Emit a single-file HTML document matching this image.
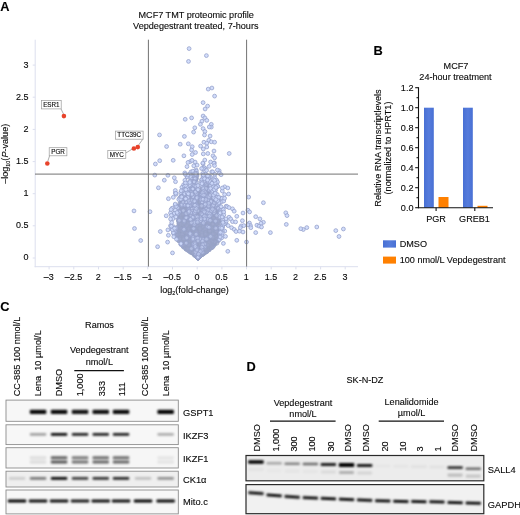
<!DOCTYPE html>
<html><head><meta charset="utf-8"><title>Figure</title>
<style>
html,body{margin:0;padding:0;background:#fff;}
svg{display:block;font-family:"Liberation Sans",sans-serif;}
text{fill:#0a0a0a;stroke:#0a0a0a;stroke-width:.12px}
.t{font-size:9.1px;}
.k{font-size:9px;transform-box:fill-box;transform-origin:50% 50%;transform:scaleY(1.08);}
.g{font-size:6.3px;}
.b{font-weight:bold;font-size:12.8px;fill:#000}
.p circle{fill:#cdd8f8;fill-opacity:.75;stroke:#8f9cc8;stroke-width:.7;}
.r circle{fill:#e8432b;stroke:none}
.gb rect{fill:#fff;stroke:#9a9a9a;stroke-width:.7}
.gb line{stroke:#8a8a8a;stroke-width:.7}
</style></head><body>
<svg width="520" height="515" viewBox="0 0 520 515">
<defs>
<filter id="b1" x="-20%" y="-100%" width="140%" height="300%"><feGaussianBlur stdDeviation="1.0 0.8"/></filter>
<filter id="b2" x="-20%" y="-100%" width="140%" height="300%"><feGaussianBlur stdDeviation="1.2 1.1"/></filter>
<linearGradient id="bl" x1="0" x2="1" y1="0" y2="0"><stop offset="0" stop-color="#4870d4"/><stop offset=".5" stop-color="#567cdc"/><stop offset="1" stop-color="#4870d4"/></linearGradient>
<marker id="pm" markerWidth="6" markerHeight="6" refX="3" refY="3" markerUnits="userSpaceOnUse"><circle cx="3" cy="3" r="1.9" fill="#9ea9cd" fill-opacity=".6" stroke="#98a3c6" stroke-width=".8"/></marker>
<marker id="ps" markerWidth="6" markerHeight="6" refX="3" refY="3" markerUnits="userSpaceOnUse"><circle cx="3" cy="3" r="1.9" fill="#ccd8fa" fill-opacity=".5" stroke="#97a2cc" stroke-width=".8"/></marker>
<marker id="pn" markerWidth="6" markerHeight="6" refX="3" refY="3" markerUnits="userSpaceOnUse"><circle cx="3" cy="3" r="1.9" fill="#ccd8fa" fill-opacity=".88" stroke="#97a2cc" stroke-width=".8"/></marker>
</defs>
<rect width="520" height="515" fill="#fff"/>

<text class="b" x="0.3" y="10.9">A</text>
<text class="t" text-anchor="middle" x="196.2" y="17.5">MCF7 TMT proteomic profile</text>
<text class="t" text-anchor="middle" x="195.8" y="28.8">Vepdegestrant treated, 7-hours</text>
<g stroke="#dcdfee" stroke-width="1" fill="none">
<line x1="35.2" y1="39.7" x2="35.2" y2="267.2"/><line x1="34.6" y1="266.7" x2="358" y2="266.7"/>
<line x1="32.7" x2="35.2" y1="258.0" y2="258.0"/>
<line x1="32.7" x2="35.2" y1="225.8" y2="225.8"/>
<line x1="32.7" x2="35.2" y1="193.7" y2="193.7"/>
<line x1="32.7" x2="35.2" y1="161.6" y2="161.6"/>
<line x1="32.7" x2="35.2" y1="129.4" y2="129.4"/>
<line x1="32.7" x2="35.2" y1="97.2" y2="97.2"/>
<line x1="32.7" x2="35.2" y1="65.1" y2="65.1"/>
<line y1="266.7" y2="269.4" x1="49.1" x2="49.1"/>
<line y1="266.7" y2="269.4" x1="73.8" x2="73.8"/>
<line y1="266.7" y2="269.4" x1="98.5" x2="98.5"/>
<line y1="266.7" y2="269.4" x1="123.2" x2="123.2"/>
<line y1="266.7" y2="269.4" x1="147.8" x2="147.8"/>
<line y1="266.7" y2="269.4" x1="172.5" x2="172.5"/>
<line y1="266.7" y2="269.4" x1="197.2" x2="197.2"/>
<line y1="266.7" y2="269.4" x1="221.9" x2="221.9"/>
<line y1="266.7" y2="269.4" x1="246.5" x2="246.5"/>
<line y1="266.7" y2="269.4" x1="271.2" x2="271.2"/>
<line y1="266.7" y2="269.4" x1="295.9" x2="295.9"/>
<line y1="266.7" y2="269.4" x1="320.6" x2="320.6"/>
<line y1="266.7" y2="269.4" x1="345.2" x2="345.2"/>
</g>
<text class="k" text-anchor="end" x="28.4" y="260.2">0</text>
<text class="k" text-anchor="end" x="28.4" y="228.0">0.5</text>
<text class="k" text-anchor="end" x="28.4" y="195.9">1</text>
<text class="k" text-anchor="end" x="28.4" y="163.8">1.5</text>
<text class="k" text-anchor="end" x="28.4" y="131.6">2</text>
<text class="k" text-anchor="end" x="28.4" y="99.5">2.5</text>
<text class="k" text-anchor="end" x="28.4" y="67.3">3</text>
<text class="k" text-anchor="middle" x="48.8" y="279.3">–3</text>
<text class="k" text-anchor="middle" x="73.5" y="279.3">–2.5</text>
<text class="k" text-anchor="middle" x="98.2" y="279.3">2</text>
<text class="k" text-anchor="middle" x="122.9" y="279.3">–1.5</text>
<text class="k" text-anchor="middle" x="147.5" y="279.3">–1</text>
<text class="k" text-anchor="middle" x="172.2" y="279.3">–0.5</text>
<text class="k" text-anchor="middle" x="196.9" y="279.3">0</text>
<text class="k" text-anchor="middle" x="221.6" y="279.3">0.5</text>
<text class="k" text-anchor="middle" x="246.2" y="279.3">1</text>
<text class="k" text-anchor="middle" x="270.9" y="279.3">1.5</text>
<text class="k" text-anchor="middle" x="295.6" y="279.3">2</text>
<text class="k" text-anchor="middle" x="320.3" y="279.3">2.5</text>
<text class="k" text-anchor="middle" x="344.9" y="279.3">3</text>
<text class="t" text-anchor="middle" x="194.5" y="293.4">log<tspan font-size="5.4" dy="1.8">2</tspan><tspan dy="-1.8">(fold-change)</tspan></text>
<text class="t" text-anchor="middle" transform="translate(8.2,153.8) rotate(-90)">–log<tspan font-size="5.4" dy="1.8">10</tspan><tspan dy="-1.8">(</tspan><tspan font-style="italic">P</tspan>-value)</text>
<polyline fill="none" stroke="none" marker-start="url(#pm)" marker-mid="url(#pm)" marker-end="url(#pm)" points="198.7,242.5 194.1,235.6 187.9,245.6 191.7,238.4 196.8,253.5 197.9,257.8 197.5,245.4 203.9,251.4 205.1,246.2 196.0,251.2 211.2,238.3 203.8,216.8 200.6,253.1 193.2,189.3 200.9,241.9 205.0,250.4 201.6,238.7 198.4,256.4 198.0,256.7 204.9,231.3 191.4,241.1 188.3,210.0 192.8,247.6 196.8,246.6 188.3,232.2 188.8,246.5 198.0,257.5 195.2,251.6 201.3,235.8 206.2,244.1 206.1,227.5 197.9,257.8 203.1,238.2 193.5,252.5 194.4,250.2 197.5,227.3 210.4,209.0 199.5,254.8 194.0,251.4 197.6,252.8 199.6,232.9 197.3,255.2 200.1,249.6 208.3,234.7 198.2,256.5 196.3,255.9 194.6,238.9 206.0,217.0 191.1,199.1 201.5,242.6 195.8,241.3 200.7,237.5 196.9,254.8 213.3,203.5 183.8,238.7 199.8,238.9 198.2,257.4 189.5,234.3 183.4,234.8 183.9,234.7 189.8,245.6 206.3,228.2 206.9,223.6 204.5,243.8 196.2,250.3 210.8,243.3 199.9,241.6 198.7,255.6 204.8,252.6 206.6,213.2 193.1,242.1 197.9,257.5 193.1,229.0 198.9,247.3 207.8,193.5 196.2,239.6 210.9,236.6 199.1,248.5 198.0,257.6 190.6,247.7 181.7,212.8 197.2,254.8 198.0,257.7 207.5,239.2 198.9,256.0 197.5,253.9 197.3,223.2 186.4,200.1 205.6,243.2 193.2,226.2 207.5,234.3 195.0,247.6 190.5,217.8 197.1,250.5 194.7,242.2 177.4,232.9 189.4,232.9 197.4,256.2 198.0,257.9 200.4,227.3 203.2,229.9 199.4,251.8 212.9,243.2 196.3,249.9 197.8,257.6 201.0,240.4 185.3,232.9 198.9,254.3 196.8,253.8 195.2,245.2 198.4,253.3 193.5,245.9 193.1,196.9 190.5,228.7 200.8,244.9 189.2,241.6 194.1,246.1 209.6,233.3 191.2,216.9 214.5,230.7 197.2,231.5 180.0,221.9 198.6,252.5 195.3,244.8 200.0,228.0 205.2,243.2 190.5,209.7 198.3,255.6 190.9,246.0 197.3,250.4 207.8,234.5 189.2,247.5 192.3,179.1 199.5,238.3 194.3,199.5 218.3,221.0 192.4,232.8 190.2,231.5 203.0,245.0 194.2,250.9 193.8,252.3 197.6,255.5 213.2,207.5 213.1,244.1 198.6,251.4 203.7,229.1 190.8,246.0 203.7,237.9 196.7,204.2 196.8,253.0 188.0,238.7 198.2,255.8 199.1,249.0 205.1,244.2 201.6,252.0 197.9,257.7 198.0,250.5 211.1,219.8 208.6,229.8 200.2,245.9 195.5,253.4 200.8,209.8 184.0,228.3 195.6,247.7 214.5,210.4 197.4,256.8 198.0,257.1 197.8,257.4 197.7,256.8 192.4,248.3 197.1,256.7 190.5,224.1 198.3,257.3 202.9,247.1 198.3,253.4 198.1,257.4 192.1,246.0 202.7,233.5 204.9,249.9 180.9,223.0 186.7,242.6 197.6,254.3 195.6,220.0 198.4,256.4 184.0,222.8 202.6,214.3 201.3,236.3 199.8,250.3 183.6,214.4 198.9,255.4 201.1,248.2 202.1,228.0 202.0,236.6 204.4,239.7 190.0,241.1 199.7,252.8 199.1,244.1 194.8,225.3 198.4,254.7 203.6,225.1 192.5,239.5 198.3,256.2 193.7,251.8 203.9,248.5 204.2,242.1 199.7,246.6 196.8,216.5 204.1,237.0 200.8,252.2 197.9,257.3 199.6,252.1 194.3,252.0 212.5,225.4 194.6,249.7 204.5,204.3 189.6,237.6 210.8,232.4 192.7,222.8 198.2,257.6 204.4,237.5 197.9,254.9 198.8,238.3 215.7,222.9 202.1,246.0 199.6,250.8 199.5,245.6 197.4,252.9 201.0,248.1 204.7,244.7 198.6,255.8 190.3,237.9 196.4,247.5 197.9,257.2 195.7,226.9 199.2,253.0 196.1,256.2 195.8,255.2 197.8,257.5 196.5,247.7 199.1,240.4 196.4,252.0 195.5,226.9 189.1,240.1 192.5,249.7 196.8,242.5 214.8,228.1 201.1,250.6 191.4,244.9 196.9,253.7 192.8,251.0 200.3,238.7 197.4,243.2 197.3,255.6 189.7,217.1 217.9,208.4 198.3,251.4 207.1,227.0 215.9,215.2 196.3,210.6 209.3,234.8 198.9,256.2 198.3,255.7 206.2,183.4 185.3,221.3 197.9,238.5 196.4,222.4 198.3,257.1 189.6,231.3 199.3,249.4 207.5,242.8 197.3,255.3 192.3,206.2 188.0,241.0 200.4,244.7 207.2,244.3 198.2,257.3 197.8,196.1 203.9,244.8 208.4,249.8 199.1,250.2 219.4,221.1 189.2,246.2 199.5,252.1 200.0,244.4 197.4,253.2 201.5,227.7 202.2,225.4 200.9,246.9 200.4,251.6 200.6,250.7 199.8,248.1 197.7,190.3 199.6,248.8 197.2,250.8 195.4,209.3 210.5,241.7 177.7,236.4 201.5,247.6 202.6,221.0 197.3,255.3 195.7,217.4 198.6,252.7 199.3,250.4 198.0,257.2 194.5,215.8 204.2,219.3 182.0,208.7 194.1,250.6 195.6,253.8 207.4,219.8 203.8,247.3 211.5,222.3 186.8,247.4 204.5,246.5 198.0,257.3 196.4,224.1 204.4,249.8 197.3,255.9 204.8,232.2 204.4,243.6 191.2,249.1 193.2,217.7 199.7,249.3 184.6,237.9 200.6,251.6 190.8,199.4 213.2,226.0 196.1,246.7 200.9,235.4 198.5,253.8 199.3,253.0 199.7,254.2 189.6,222.2 199.9,220.4 197.2,256.9 191.8,239.8 202.5,244.0 197.8,257.2 195.4,250.7 201.0,250.5 198.2,254.1 198.3,251.1 209.8,211.6 194.7,231.1 204.7,243.8 201.5,213.3 205.8,209.0 196.8,245.5 198.9,250.0 194.4,253.3 204.8,243.2 198.7,256.6 206.0,242.8 197.3,255.5 196.9,244.9 186.2,238.4 199.1,246.5 189.7,219.2 187.5,245.3 204.6,244.8 199.6,254.3 205.6,238.9 186.7,205.9 188.9,210.8 197.7,255.6 208.0,219.6 210.5,228.7 191.5,215.8 192.7,205.9 207.6,234.3 201.7,239.4 204.4,216.0 184.7,228.0 187.8,249.2 193.5,230.1 194.7,249.0 190.9,231.6 199.2,243.8 203.0,250.2 190.8,248.7 197.9,257.7 197.1,215.3 199.5,244.3 197.0,249.4 199.5,244.1 214.4,229.1 203.5,241.3 200.8,248.8 194.7,233.3 193.5,237.3 204.3,205.3 198.7,255.9 187.0,236.6 196.1,239.2 195.9,230.2 197.8,256.8 198.8,250.3 201.1,254.4 199.7,246.9 200.8,212.0 194.8,253.2 200.3,232.1 183.5,208.0 202.4,236.9 203.3,238.5 195.8,201.1 190.1,220.4 191.8,242.8 203.7,216.4 189.8,243.1 193.9,246.8 205.4,234.3 208.5,222.4 197.0,246.3 205.5,230.4 201.9,239.5 191.7,243.0 215.0,215.3 200.9,253.1 199.8,255.6 203.7,231.7 186.6,239.9 196.1,236.7 204.5,209.7 189.5,243.7 198.0,257.0 197.3,234.7 195.6,252.5 197.4,246.5 190.7,186.3 202.9,245.0 196.6,244.4 186.4,245.7 204.3,205.9 198.9,254.9 203.7,245.7 200.4,252.3 200.2,248.5 210.7,233.3 192.1,245.4 210.1,213.1 204.0,230.9 201.4,248.1 191.9,245.4 197.0,247.6 208.7,239.2 184.3,222.5 199.1,253.8 195.1,226.4 203.7,251.8 189.0,215.6 196.4,232.5 192.8,246.9 209.1,238.7 208.4,215.0 192.5,249.5 196.4,214.3 201.7,238.0 193.5,201.3 197.7,221.9 196.3,236.7 202.9,244.3 194.8,220.7 199.7,254.7 200.3,222.1 196.2,248.0 197.4,240.0 198.0,257.1 195.7,244.5 190.4,235.0 192.3,209.6 208.2,239.3 195.8,249.8 201.7,250.2 195.0,216.6 197.5,249.3 204.4,252.6 195.7,214.5 196.2,254.2 207.0,226.3 197.4,250.0 198.1,257.0 182.0,211.3 194.7,197.1 193.9,221.1 192.3,245.8 199.5,256.0 199.4,251.3 203.6,246.1 187.5,218.2 194.3,248.6 203.4,249.8 195.8,251.0 203.2,232.0 206.1,246.5 196.1,252.1 195.3,249.2 209.8,218.5 201.2,250.1 208.0,237.6 197.6,256.1 198.3,254.5 196.8,253.6 199.6,252.8 199.6,253.4 184.1,227.7 198.5,256.7 197.5,255.2 199.6,248.3 208.5,233.5 198.0,257.8 184.4,241.3 205.0,247.3 195.1,250.0 208.3,218.3 199.1,253.8 196.1,246.9 203.4,247.6 191.5,233.1 196.3,227.9 201.7,247.5 196.7,209.3 190.2,228.5 198.9,251.3 197.9,257.7 184.1,218.4 210.3,225.4 204.4,236.3 199.3,256.1 203.0,234.4 199.2,247.2 194.9,254.2 200.5,236.0 197.8,257.6 184.0,237.1 203.6,245.7 204.4,249.3 200.0,250.3 211.2,223.2 192.4,231.5 194.3,248.9 182.9,233.3 198.6,257.0 196.4,245.5 187.3,247.2 186.4,241.6 198.9,249.9 197.3,256.8 194.4,254.1 201.4,253.5 202.8,238.3 196.3,253.5 196.9,254.1 202.3,234.7 188.5,219.8 215.0,228.9 198.9,253.1 197.9,257.9 203.7,240.4 194.3,232.1 195.1,252.9 212.3,232.4 193.2,185.5 193.6,245.6 194.1,242.9 195.2,234.3 193.0,237.5 192.9,237.1 199.8,252.0 197.6,251.6 200.1,253.8 193.1,250.5 197.9,257.6 189.1,234.9 207.4,248.3 195.0,252.2 193.1,239.4 199.9,248.7 198.2,255.5 194.5,242.8 203.4,201.0 201.9,254.6 195.4,244.5 202.5,247.6 187.1,240.8 208.1,209.1 199.9,224.7 196.9,250.8 181.1,216.2 198.7,256.7 208.6,197.6 203.6,240.8 196.1,250.8 209.5,239.6 203.8,219.2 196.3,242.8 200.6,238.4 197.8,256.3 199.6,251.7 196.5,252.8 193.7,244.2 190.7,250.1 200.7,251.3 211.8,217.0 198.7,250.2 192.5,193.6 203.0,240.1 196.2,248.1 196.9,246.1 204.1,252.0 195.2,249.5 196.1,247.2 205.9,232.4 197.8,252.5 189.5,243.3 203.2,219.2 199.6,234.9 197.9,258.0 190.5,245.9 200.3,248.9 190.3,233.5 195.5,250.6 201.0,241.6 210.5,208.2 189.4,243.8 196.1,248.9 201.0,245.5 198.5,252.8 208.8,224.8 193.0,252.2 196.5,254.9 207.1,241.8 186.7,237.5 193.2,239.7 196.0,235.8 205.9,240.8 205.3,233.3 199.0,240.3 203.3,246.7 201.5,242.3 197.3,256.8 198.8,246.4 192.3,234.0 204.8,243.4 196.1,230.0 185.6,237.2 201.6,245.4 200.0,243.7 205.9,249.4 218.9,238.4 203.9,248.5 197.2,255.6 206.4,221.9 194.0,213.4 197.2,256.8 187.3,220.5 196.4,235.8 195.3,254.2 186.4,249.4 194.4,248.6 199.5,256.3 192.0,245.2 194.1,249.0 189.9,248.9 201.1,237.6 200.2,254.5 193.6,253.0 198.7,251.4 196.2,248.6 193.7,238.4 196.2,254.3 184.1,235.0 200.9,231.4 196.8,255.9 213.4,230.6 208.3,240.3 197.9,258.0 188.4,209.9 192.5,251.7 190.3,232.2 187.4,243.3 203.7,241.2 195.6,253.1 198.7,256.1 201.6,252.7 198.4,257.1 192.1,230.2 198.7,251.9 184.0,237.0 196.7,242.1 198.3,252.0 198.6,250.2 197.8,256.1 204.4,233.5 201.5,245.9 197.9,253.8 197.0,251.7 200.0,249.2 203.6,244.6 201.0,245.5 198.2,253.7 195.3,237.7 185.8,243.4 196.8,250.3 196.2,230.7 197.2,221.4 206.3,205.1 194.2,250.8 201.2,212.1 197.0,248.1 198.3,256.5 185.3,215.9 201.8,223.7 203.3,252.2 197.4,240.7 198.5,257.0 205.6,244.9 209.1,229.9 198.7,257.1 205.0,219.4 197.5,232.9 197.2,256.6 196.3,245.0 209.0,249.1 188.3,214.3 207.7,234.5 205.3,223.5 207.8,206.7 198.4,253.5 186.7,242.0 195.0,242.7 210.1,241.7 208.0,224.7 203.6,237.6 195.7,243.5 179.1,219.9 196.2,247.0 193.0,241.2 188.7,240.5 210.5,238.8 197.9,256.7 198.7,252.7 198.8,256.6 204.2,210.3 202.6,242.6 182.0,232.0 202.1,240.4 197.5,244.4 203.8,245.7 200.3,244.9 208.3,233.8 212.9,223.9 197.9,252.0 195.2,249.0 196.8,254.2 193.9,251.4 197.8,256.0 213.5,202.4 196.1,179.7 180.9,233.5 197.3,256.8 217.0,240.0 211.8,207.1 199.6,253.9 197.2,255.8 200.5,241.0 189.7,228.0 198.2,255.1 194.7,246.8 196.7,256.2 198.8,255.2 201.0,250.4 194.9,254.5 202.0,210.2 196.9,243.0 201.4,246.0 197.1,230.6 198.5,255.5 199.1,242.2 206.1,224.3 203.4,248.3 188.1,244.9 197.8,256.8 198.0,257.9 197.7,256.7 200.5,253.4 198.3,256.9 201.5,235.6 197.1,228.7 200.2,254.8 197.9,257.3 195.4,221.1 197.2,256.4 213.1,237.1 197.9,256.9 205.0,246.9 188.0,204.1 208.4,240.3 193.1,249.5 197.8,257.5 199.4,253.7 198.0,257.6 198.7,256.9 199.0,252.2 197.9,257.1 197.2,254.4 202.1,216.6 196.4,240.4 193.0,236.6 197.8,254.0 200.1,249.1 194.8,233.1 205.5,246.6 184.5,214.0 201.6,254.9 197.4,253.8 209.5,245.6 202.0,209.6 190.9,240.6 197.9,257.9 176.7,231.2 196.3,255.7 196.8,254.3 205.1,210.9 184.1,243.0 194.8,220.6 197.0,255.7 202.6,247.8 198.4,257.3 192.9,244.6 196.0,234.7 202.9,251.3 197.3,252.1 195.7,245.3 200.6,235.0 197.8,257.5 200.4,252.5 199.1,246.8 203.8,240.7 199.0,237.9 199.6,253.1 205.9,247.1 197.3,250.7 203.0,246.6 198.0,257.8 199.3,253.7 196.8,223.2 182.8,220.0 198.2,256.7 178.6,236.7 196.8,252.5 199.7,226.1 197.2,229.0 197.5,250.4 197.7,256.8 201.5,238.9 185.2,222.7 199.5,247.9 202.5,210.2 215.3,208.6 191.7,251.2 198.0,257.8 205.4,233.6 195.5,248.9 198.8,255.0 196.7,234.3 186.4,208.5 199.9,254.5 187.4,240.1 213.9,234.8 197.9,257.8 192.5,249.9 195.5,254.9 182.5,205.1 214.1,242.9 199.1,255.7 203.4,248.4 193.4,244.6 194.5,238.3 193.3,196.2 187.0,238.5 197.3,240.6 189.4,234.3 195.3,241.4 184.1,200.8 199.2,244.0 187.8,232.5 205.1,246.2 208.2,205.7 197.7,256.7 209.8,224.1 205.8,234.1 200.0,244.9 197.8,257.5 208.9,235.2 196.6,234.0 199.3,243.2 195.9,251.5 190.2,241.9 181.8,235.8 187.3,227.7 188.2,213.8 201.3,247.2 179.5,210.2 179.2,212.2 190.9,244.6 193.3,244.9 194.9,233.0 199.3,256.2 182.8,214.6 197.6,244.7 197.1,252.3 195.5,236.4 206.7,205.5 200.7,216.0 197.3,255.2 198.2,256.3 193.1,233.0 194.5,249.6 211.0,238.1 196.1,218.7 200.7,251.8 208.0,231.3 193.9,251.6 199.3,254.3 205.0,239.5 184.6,236.9 207.5,220.8 196.9,240.6 200.0,253.2 197.7,248.2 195.8,253.1 210.6,237.4 200.9,247.0 193.5,226.3 199.1,245.3 200.4,253.2 202.6,222.9 198.7,256.0 181.3,226.2 197.0,175.8 198.0,257.7 201.3,248.1 195.3,254.0 195.6,254.9 211.6,214.0 202.1,236.7 205.0,247.4 198.1,256.9 203.3,229.9 202.0,246.6 207.1,247.4 203.4,242.0 209.7,247.0 201.4,240.9 194.7,220.9 193.0,241.9 197.1,245.7 195.9,248.2 197.2,254.9 206.0,232.3 195.2,230.1 199.6,254.5 194.5,245.7 196.9,226.0 205.1,244.9 200.0,248.4 177.5,235.7 192.2,219.2 206.4,238.4 204.6,218.8 192.2,238.9 185.9,212.5 190.9,241.4 216.4,230.2 188.8,244.4 195.1,246.5 203.0,249.9 205.7,234.0 204.1,250.3 198.0,256.4 193.6,209.0 197.8,255.7 207.0,229.9 198.8,254.5 199.3,248.5 198.4,257.1 210.6,242.1 195.7,234.7 195.4,248.2 182.1,232.6 192.1,248.0 201.8,227.7 197.9,257.8 205.6,238.5 192.4,247.3 197.8,255.6 200.4,244.7 200.1,247.9 199.6,244.2 196.9,255.7 198.1,257.2 195.2,251.3 201.3,251.1 197.4,254.8 206.7,220.7 208.4,241.1 196.5,203.2 199.5,230.0 202.3,226.7 197.7,255.0 192.3,212.3 212.4,238.0 197.6,253.5 210.5,193.5 194.5,235.3 197.8,257.3 197.4,250.2 201.5,252.5 203.1,242.7 204.7,247.7 210.3,236.3 197.8,257.3 201.3,249.7 190.7,189.2 189.3,240.1 188.9,224.6 192.2,247.7 204.4,236.3 199.1,253.5 197.3,225.1 217.0,208.0 198.2,257.2 212.7,218.1 203.2,230.1 200.6,229.7 197.8,243.5 185.2,238.3 193.7,196.1 199.6,246.1 204.9,232.9 216.2,228.8 207.5,240.3 196.6,217.9 183.8,231.6 202.3,251.5 206.7,233.8 209.4,249.7 204.8,234.2 197.2,253.0 190.8,221.8 197.9,257.9 198.4,256.0 186.0,227.3 190.4,246.8 194.7,220.5 201.1,250.7 211.5,238.0 190.0,236.2 197.4,251.0 203.0,249.6 190.2,237.6 186.0,239.2 212.7,238.0 200.5,251.5 194.1,221.8 198.7,255.1 194.8,243.8 195.1,231.9 209.3,210.3 194.4,252.8 193.3,236.1 210.8,208.2 212.7,223.1 201.6,253.3 192.7,245.7 198.2,255.0 209.3,236.2 197.5,255.7 193.7,216.5 199.4,253.7 199.4,253.4 209.6,208.6 199.5,250.1 197.9,258.0 188.1,246.7 198.1,256.9 191.3,237.4 196.9,253.5 208.2,238.6 208.9,249.6 200.4,251.5 194.8,253.6 195.6,250.5 197.8,254.9 204.3,249.1 200.1,251.3 193.0,227.0 197.4,253.9 205.4,232.5 197.2,253.1 198.0,257.6 193.2,228.9 210.0,232.2 196.5,248.5 198.4,256.7 199.3,256.0 203.7,245.4 198.0,257.3 202.8,215.8 201.7,219.2 212.2,234.2 195.1,197.6 198.3,257.0 198.2,256.2 207.8,222.7 209.2,245.9 203.4,234.1 197.7,254.1 200.0,245.3 199.1,254.9 194.0,245.5 199.5,246.3 195.0,214.4 200.8,228.6 210.7,243.8 199.3,254.7 201.4,214.3 198.1,257.5 183.9,238.8 202.7,249.6 193.4,228.1 197.0,248.3 216.8,228.4 209.8,217.3 180.4,213.3 207.3,241.9 200.6,253.2 203.7,227.1 197.6,255.7 199.2,243.8 198.3,252.9 200.8,246.2 198.3,254.7 199.1,246.1 202.7,248.8 186.4,230.8 191.3,193.3 200.8,230.6 205.2,248.2 211.0,237.8 198.0,257.5 199.6,254.5 209.9,245.1 210.6,228.0 197.1,248.6 198.2,254.7 177.7,226.7 209.0,233.8 197.6,248.0 207.2,237.2 180.6,240.9 197.2,252.0 186.7,244.7 197.5,256.3 192.9,240.5 188.3,245.2 201.7,222.9 198.3,251.0 184.5,240.3 195.8,251.9 196.8,253.1 202.5,218.1 205.5,242.7 196.9,253.9 195.0,246.0 191.4,242.2 186.2,239.4 196.8,252.8 194.8,251.9 216.9,220.5 201.7,214.9 206.0,187.6 201.2,215.2 196.9,256.4 196.7,248.0 200.1,246.8 201.2,254.0 212.2,231.7 184.9,225.0 191.5,241.8 208.5,228.7 197.6,226.6 201.7,229.1 200.4,251.5 210.5,218.9 206.1,236.2 208.5,245.0 198.0,257.9 217.3,239.4 201.6,247.4 196.8,254.7 204.0,243.1 193.6,220.5 217.1,222.0 191.0,250.7 197.2,214.3 198.8,256.8 197.4,242.4 198.7,255.9 198.0,235.7 197.4,251.8 197.5,250.9 198.5,254.3 197.2,250.4 207.2,235.5 185.4,235.2 203.7,251.8 189.9,244.2 189.2,231.5 187.7,239.4 195.6,182.5 205.5,189.4 195.9,255.1 205.0,224.0 202.3,211.7 185.6,210.6 180.5,206.9 203.0,244.7 198.7,243.3 191.2,249.9 195.3,254.0 209.1,197.9 201.7,227.6 192.0,244.7 201.0,251.7 198.1,257.3 202.8,238.4 202.3,237.4 199.5,235.5 196.2,253.8 197.1,256.0 206.8,206.7 195.0,254.5 195.0,247.0 197.8,257.0 199.0,256.0 193.6,230.1 203.2,245.1 203.8,234.7 209.1,208.8 193.1,244.3 201.0,227.6 193.0,224.4 206.5,250.4 196.3,216.2 205.7,224.3 211.3,245.2 212.4,202.6 201.1,234.8 195.5,227.6 192.5,246.4 199.2,246.9 191.7,245.5 199.6,254.8 200.3,240.3 196.2,253.3 194.2,239.9 200.6,220.4 196.9,245.3 179.7,238.9 198.8,248.5 188.3,234.6 198.3,255.0 196.0,245.9 188.1,238.5 199.5,253.1 200.6,251.8 196.5,221.2 202.1,252.4 203.7,243.5 197.8,250.6 197.0,255.8 206.2,241.8 200.1,249.1 204.4,220.3 197.0,246.7 193.4,247.4 200.3,249.4 195.5,215.3 190.8,217.1 180.8,232.4 192.5,243.2 199.4,254.3 199.7,247.9 197.5,255.4 199.5,248.2 179.6,229.3 201.2,238.4 199.4,253.0 203.4,243.8 197.9,257.2 198.0,257.9 204.1,236.6 187.0,248.1 202.4,249.1 197.7,254.5 204.1,235.6 197.9,257.4 202.4,235.6 196.7,255.4 201.8,224.7 192.1,242.2 204.4,238.7 189.3,243.5 186.0,240.6 195.9,232.6 203.0,248.9 197.8,256.0 192.8,237.8 199.2,253.9 196.7,253.6 197.8,255.0 195.9,249.1 184.2,238.1 205.9,206.9 206.7,243.5 194.4,243.4 192.2,234.4 197.1,249.1 188.7,241.9 198.4,255.3 210.2,208.3 197.9,257.2 202.3,252.3 195.8,244.7 203.8,188.0 194.1,214.5 194.5,247.9 198.5,252.9 196.0,247.5 202.3,250.6 205.0,234.2 204.8,209.4 194.2,254.3 201.0,248.8 202.3,194.6 216.6,229.9 196.3,252.8 193.4,250.6 197.2,247.4 201.7,253.2 201.7,253.7 202.5,245.0 197.9,257.7 195.3,253.5 204.9,236.4 195.3,249.3 194.8,252.6 191.0,234.1 201.4,253.6 203.1,250.6 201.2,218.8 194.6,237.6 198.2,257.1 199.9,214.7 204.0,240.1 197.9,250.4 195.9,250.5 197.6,254.9 210.9,247.2 197.8,256.8 194.6,243.9 198.1,255.5 190.0,241.4 199.0,255.7 199.8,255.3 205.2,185.1 198.2,257.4 186.7,249.1 190.1,232.1 190.4,227.8 193.5,223.4 189.8,241.4 197.5,222.8 195.5,246.0 197.4,248.0 208.9,237.3 197.3,255.4 195.6,231.8 197.1,255.7 192.6,230.6 204.5,211.0 197.2,249.6 198.4,247.0 185.6,202.8 184.6,230.7 196.0,250.1 209.1,237.9 201.0,252.0 208.0,209.0 188.4,235.4 194.7,244.2 192.5,249.7 203.8,248.3 198.5,251.7 201.9,241.3 207.9,241.1 195.7,250.2 189.0,201.5 197.9,258.0 206.6,248.4 195.0,254.4 199.9,251.9 205.1,247.1 196.7,250.8 197.9,257.6 200.6,241.6 193.2,248.8 199.1,245.4 191.8,246.0 187.4,215.3 201.4,243.8 197.0,252.8 192.5,249.1 214.4,241.3 187.1,244.1 193.9,232.4 197.7,255.9 193.3,212.0 192.7,229.1 210.9,236.7 200.5,215.5 202.2,253.1 193.7,242.3 184.3,246.9 203.1,250.0 197.4,250.1 200.5,245.3 198.9,251.5 203.6,238.5 180.8,231.0 200.2,228.4 193.9,247.4 196.6,204.8 193.9,225.5 194.6,230.5 198.2,256.6 211.2,221.9 203.2,239.4 199.7,251.3 194.0,252.2 197.8,257.6 209.6,188.6 205.6,244.8 199.1,254.0 201.4,219.4 191.1,213.8 198.0,255.3 186.9,233.1 201.1,249.3 199.7,253.3 205.9,248.6 194.7,248.6 192.8,249.7 197.4,192.7 198.8,252.4 183.6,232.4 201.0,247.3 197.0,250.0 184.5,241.9 202.7,239.8 206.5,239.2 207.9,243.3 182.1,226.6 197.7,234.4 211.7,237.8 193.7,252.0 196.4,232.4 192.2,239.6 201.4,236.1 198.1,257.5 200.3,234.7 190.5,238.3 197.9,257.8 191.9,236.1 194.6,247.6 197.7,242.5 206.6,249.6 197.8,257.2 202.0,202.8 204.0,225.6 199.0,251.8 193.7,251.0 197.1,253.7 192.6,249.7 194.0,222.6 197.4,212.1 197.9,257.9 197.3,255.3 196.5,236.1 197.4,249.8 189.6,227.9 202.4,230.3 199.3,256.1 197.9,254.5 190.7,249.6 198.3,254.0 199.0,245.0 197.6,247.8 195.4,250.6 205.8,240.4 199.3,254.2 204.7,246.4 198.1,257.2 195.9,247.0 204.3,252.2 192.2,236.9 184.9,232.4 199.9,253.8 197.8,257.2 189.0,248.0 196.3,245.8 204.2,228.4 189.9,244.0 191.8,240.1 197.0,249.7 193.6,249.0 182.4,205.1 190.9,236.6 200.8,253.1 191.4,248.7 199.8,248.0 193.3,253.3 191.7,224.4 199.0,256.1 189.0,248.1 197.9,248.2 201.1,217.8 192.2,245.6 198.3,252.6 187.1,234.3 202.4,213.0 205.3,243.7 192.7,243.5 198.2,254.9 194.9,244.6 195.6,233.1 197.5,257.0 192.4,239.7 207.1,243.0 206.8,219.0 205.4,246.6 200.0,233.0 199.6,254.2 199.8,245.7 197.9,257.0 196.9,256.0 193.7,238.4 190.2,244.0 182.8,238.9 202.6,250.5 197.6,255.6 197.8,257.4 211.3,223.2 197.9,257.2 206.8,237.7 187.8,239.8 198.1,257.7 193.0,191.0 197.5,253.2 183.9,239.5 196.6,251.5 204.7,237.9 200.9,254.5 191.6,245.0 187.6,245.0 200.6,242.9 197.0,241.2 196.8,247.5 206.3,245.5 198.5,252.5 198.3,255.8 195.3,253.7 197.1,242.8 182.3,235.0 208.6,217.1 201.9,243.9 189.5,247.9 194.7,221.0 209.4,206.6 198.4,256.5 196.5,235.9 203.4,213.8 197.9,257.7 194.3,252.7 208.2,204.2 199.2,253.7 189.5,222.0 198.2,256.3 181.4,216.2 192.5,209.7 216.3,222.8 197.4,244.4 194.8,230.7 195.9,250.6 206.5,243.7 200.6,254.8 197.3,200.3 197.3,253.1 204.2,249.6 214.3,230.5 204.7,208.2 209.2,238.8 196.9,256.1 192.6,237.5 212.7,235.6 218.0,241.0 187.5,241.5 198.3,249.9 193.3,243.3 195.1,211.6 190.9,244.1 202.6,191.9 196.7,206.2 195.4,179.4 192.3,242.1 194.3,253.2 197.5,244.1 195.4,250.2 198.4,256.1 188.8,233.2 200.3,246.3 191.9,248.1 198.5,256.6 200.2,255.5 199.2,241.2 197.3,209.1 201.3,222.6 208.1,240.0 198.3,253.5 202.3,239.3 200.2,243.8 206.1,243.7 195.7,233.3 203.2,252.3 196.6,235.0 212.3,232.6 189.3,234.0 189.7,245.6 198.8,242.8 195.3,245.3 204.4,249.3 193.8,217.4 198.9,254.5 197.9,257.3 213.5,229.4 200.6,226.2 198.2,256.5 204.9,230.9 183.9,230.4 192.7,243.5 195.1,191.2 199.4,241.2 197.4,255.7 190.3,240.7 184.3,233.8 208.5,192.0 200.0,244.8 193.5,242.6 200.4,252.2 207.7,231.6 193.3,252.5 198.0,257.8 198.1,256.5 195.2,249.9 199.1,255.2 184.2,233.5 184.0,233.8 200.0,251.6 204.6,249.6 218.9,213.7 195.9,254.0 207.9,234.9 193.1,228.2 200.4,245.4 191.6,218.3 192.1,246.9 191.8,245.4 191.7,250.7 198.9,255.5 207.1,214.9 200.7,228.7 200.9,233.5 194.4,246.0 196.3,200.5 199.9,236.5 198.7,254.0 200.9,249.4 194.0,234.8 194.3,226.2 197.2,245.3 194.4,250.6 205.0,241.2 203.1,243.9 217.4,238.5 200.3,253.8 202.2,250.2 213.6,208.5 197.6,256.5 193.6,225.0 197.3,243.3 207.7,246.0 188.7,244.1 193.4,241.1 196.3,254.2 197.9,257.6 195.8,253.3 204.3,233.0 195.2,249.5 195.5,246.7 205.9,248.1 200.9,248.7 201.4,252.3 197.0,238.4 206.1,243.0 195.1,226.8 216.8,236.8 197.2,240.9 197.3,252.6 200.1,218.0 201.8,218.9 205.1,219.5 210.4,234.7 215.6,228.6 197.6,255.5 193.3,252.5 180.6,220.9 192.2,248.4 193.9,241.7 213.1,225.7 199.1,256.2 195.3,233.6 180.8,202.6 197.3,256.5 194.5,235.4 195.3,240.8 182.1,200.5 178.1,232.9 196.9,253.8 187.0,234.9 204.3,245.9 214.2,233.9 196.0,255.4 197.8,255.6 198.7,252.0 197.8,256.4 212.6,225.8 201.6,245.0 194.6,225.8 200.1,236.1 188.6,209.2 192.0,235.9 202.9,234.2 202.7,214.8 197.1,243.6 195.8,229.8 197.9,256.5 190.3,215.5 197.8,256.4 180.2,237.3 198.4,256.4 190.7,247.3 199.2,231.2 197.5,257.0 184.1,233.9 205.1,225.0 201.8,231.4 202.1,206.4 198.7,250.5 199.9,249.3 181.2,223.2 193.6,252.0 197.7,256.9 204.4,241.8 200.7,254.0 202.0,242.7 211.9,235.0 203.1,249.2 182.0,227.8 197.4,243.9 194.1,250.3 200.6,251.9 198.4,255.0 200.4,253.1 196.5,230.1 213.5,239.3 192.8,238.1 197.8,256.0 208.1,243.7 203.2,241.9 193.0,252.9 197.9,242.5 190.8,243.7 204.1,229.5 197.4,256.4 194.8,251.1 199.4,243.2 197.9,251.8 196.3,251.3 209.7,233.3 200.9,238.2 194.1,253.1 197.8,256.5 198.0,257.5 205.5,245.7 201.2,250.9 195.4,251.5 197.6,251.0 203.8,240.3 198.0,256.9 189.2,216.1 203.1,236.5 216.3,229.3 212.9,235.1 189.9,239.4 196.7,250.7 207.1,211.3 198.0,257.8 203.5,237.8 198.0,257.8 197.8,254.2 195.1,209.0 199.3,246.6 193.0,210.8 177.6,237.4 208.3,226.1 198.5,256.9 201.6,212.9 199.0,251.9 193.5,248.9 186.7,233.6 202.9,247.5 199.5,242.1 212.2,233.7 209.7,219.9 197.1,249.3 203.7,234.2 194.6,252.1 195.0,238.0 198.3,251.3 198.4,251.4 200.1,251.5 197.0,256.5 191.1,248.0 201.9,249.1 199.4,251.7 188.0,238.8 196.3,248.0 186.8,241.9 198.0,257.8 211.2,230.1 198.5,250.0 200.8,250.9 194.6,216.5 194.2,253.3 199.5,250.8 198.0,257.3 203.0,245.0 197.9,257.7 186.8,227.6 196.5,223.6 197.9,257.8 195.0,222.7 197.4,252.1 209.0,236.4 185.9,239.3 203.0,232.8 206.0,238.1 197.7,257.0 197.3,256.2 199.6,250.2 193.2,229.5 201.7,242.2 199.0,245.2 187.6,206.9 192.1,221.2 197.3,249.8 204.4,253.2 199.4,250.7 201.9,238.3 194.5,252.8 198.0,257.8 197.7,255.5 198.9,252.4 190.3,230.8 210.0,240.0 203.2,251.2 191.5,240.9 209.2,230.9 201.6,248.3 197.5,242.8 193.8,239.3 179.4,229.0 183.6,232.9 196.6,250.4 189.2,228.3 198.6,256.7 199.3,241.5 196.4,252.2 215.3,229.0 196.5,248.9 198.7,250.4 202.3,240.3 196.2,240.2 205.9,245.5 190.8,235.0 179.8,203.4 216.3,239.3 194.9,229.0 211.3,239.2 194.6,237.7 198.4,250.8 197.9,256.7 200.1,245.2 194.7,235.2 216.8,226.9 200.3,255.2 215.1,217.9 205.1,236.8 197.2,242.1 196.6,243.8 200.2,253.6 197.7,256.8 206.2,230.6 183.5,219.0 203.9,236.6 198.1,257.2 193.5,186.4 206.2,241.0 194.9,214.9 197.7,257.1 201.2,252.2 181.0,221.8 216.2,233.0 182.9,215.6 195.7,249.5 208.7,230.7 201.2,233.8 198.6,251.0 200.5,236.3 197.6,254.8 197.3,249.6 195.7,246.0 197.1,253.5 204.9,237.1 197.5,255.5 195.8,252.4 194.7,234.2 197.9,257.6 188.7,243.4 204.8,246.3 198.1,257.3 199.5,252.5 197.7,254.4 197.2,235.8 197.1,252.1 192.9,213.8 199.6,251.7 198.7,256.7 204.4,210.4 197.0,253.2 199.1,255.4 206.7,220.0 196.8,248.8 191.6,241.7 196.8,246.3 207.7,244.8 191.9,245.3 196.3,252.5 199.1,255.8 197.9,257.8 210.5,227.4 197.3,213.8 185.6,219.6 194.5,249.2 206.3,244.1 209.5,233.8 211.2,234.6 194.0,245.5 197.0,249.8 194.1,200.5 200.7,247.9 197.2,250.6 210.1,240.3 202.4,206.3 197.0,246.6 198.3,252.4 213.6,231.6 199.2,256.0 187.8,245.0 198.1,255.7 196.2,248.7 199.3,252.6 197.6,255.2 188.6,240.8 192.1,246.5 200.7,206.4 197.7,255.0 194.9,243.2 192.3,219.3 193.5,250.7 205.6,228.9 201.0,234.3 196.3,223.6 201.2,227.9 196.6,237.1 197.7,256.2 198.4,253.9 193.5,235.7 186.8,236.8 206.2,232.3 198.0,257.9 195.8,247.3 200.8,250.3 197.3,250.3 200.8,240.0 191.7,249.8 192.2,238.6 200.2,255.2 195.2,252.5 201.3,204.1 201.5,254.9 213.4,234.6 205.2,234.7 195.4,233.4 190.5,222.3 197.4,252.4 196.5,232.9 198.8,254.5 197.2,252.8 185.3,232.7 190.2,234.8 200.1,254.5 198.2,257.4 200.3,238.0 202.5,236.0 200.8,252.3 204.1,245.0 197.4,256.3 202.9,252.4 187.2,212.6 197.6,212.0 203.7,242.5 195.5,234.7 209.6,243.5 198.9,241.9 196.0,251.7 202.6,243.1 197.9,257.1 198.0,257.6 188.1,232.4 199.0,240.3 196.7,238.2 195.5,252.5 204.8,244.0 204.6,239.0 200.6,252.8 206.5,221.0 196.4,198.8 198.7,246.2 210.6,241.2 197.3,240.8 196.6,249.0 192.6,244.0 198.6,252.8 202.8,229.3 198.1,257.5 197.9,257.9 196.7,234.7 192.9,249.3 200.4,209.8 203.3,230.4 197.1,225.1 205.2,207.7 198.9,251.4 191.2,226.9 215.5,207.6 198.1,257.2 197.9,256.1 197.7,254.7 192.1,247.0 202.6,249.1 209.9,226.1 197.4,254.6 200.4,251.3 209.6,240.8 192.7,250.1 192.0,246.2 199.0,250.1 190.7,251.9 198.9,250.5 211.8,235.8 202.9,212.0 200.7,215.6 197.2,254.3 193.5,251.1 180.9,237.6 188.4,229.7 200.9,244.2 196.4,254.7 197.9,257.7 198.3,256.0 195.1,239.1 201.1,235.1 200.0,246.7 202.0,252.5 195.2,248.0 196.0,242.9 190.7,222.9 201.0,230.7 203.3,245.6 204.3,249.3 196.1,249.5 194.3,250.9 199.1,256.5 193.1,244.9 188.8,243.5 195.8,245.6 203.4,234.7 204.5,247.1 188.7,236.4 198.9,253.2 209.5,240.7 201.5,240.2 180.7,227.3 213.4,210.2 196.1,249.3 200.6,238.7 200.3,249.7 196.1,239.9 206.5,231.2 198.4,254.7 207.6,241.8 193.2,231.6 195.3,251.8 203.8,221.8 201.0,249.3 197.0,252.9 190.5,244.5 201.2,236.3 198.1,256.3 202.4,253.2 197.4,256.8 214.8,231.4 200.0,252.0 190.7,232.6 202.0,245.2 205.8,248.8 199.6,253.9 209.0,217.2 200.6,253.1 193.8,250.6 217.4,218.8 209.4,233.2 194.3,251.7 194.1,247.0 196.1,211.9 196.6,254.1 196.3,249.0 206.7,221.6 214.1,233.1 208.3,214.5 197.9,250.9 202.6,225.7 191.2,213.2 189.2,232.1 188.9,233.7 194.0,248.6 193.8,226.1 207.0,239.3 198.1,234.1 200.7,254.5 199.2,237.6 185.7,246.9 199.9,253.2 199.7,248.3 199.6,252.8 201.3,235.3 188.8,236.0 203.9,248.8 199.2,256.0 204.5,239.0 201.3,238.3 198.8,255.2 194.5,240.4 209.8,243.0 193.0,245.4 211.9,204.2 198.2,256.2 198.1,257.0 194.7,243.9 179.5,217.8 196.6,238.2 204.2,221.2 196.5,242.4 187.3,243.7 198.7,255.3 198.8,255.5 205.1,225.3 204.8,248.6 198.8,256.1 197.7,255.7 197.8,256.4 207.4,244.2 201.0,246.0 204.2,245.3 200.6,246.1 197.9,256.2 188.9,244.3 192.0,228.5 215.5,236.1 191.5,250.2 197.9,257.8 199.9,246.5 206.5,195.0 183.4,227.1 201.6,236.8 218.1,222.8 202.2,220.0 200.4,252.6 208.8,235.8 193.1,191.2 195.6,247.4 198.7,247.4 195.1,250.2 192.8,212.2 189.5,247.8 211.7,230.0 206.5,200.8 194.6,188.5 197.7,256.5 200.5,244.9 207.4,196.2 201.1,244.3 203.1,254.0 193.4,227.1 198.8,256.5 211.0,224.7 199.5,254.2 190.0,237.5 194.1,252.9 194.1,242.4 211.1,239.7 196.4,253.8 197.6,251.3 197.9,258.0 197.9,253.7 211.9,237.8 198.6,253.0 197.9,257.8 189.2,242.9 195.9,246.9 186.9,243.1 202.5,212.4 191.5,241.0 202.0,248.6 196.1,251.1 197.9,255.7 191.2,228.1 194.6,247.7 198.6,251.8 196.5,253.6 197.3,221.9 197.2,251.9 185.2,231.7 207.0,245.9 200.6,243.0 199.2,243.3 197.2,255.4 201.4,236.5 198.5,250.4 195.4,249.0 189.2,241.2 193.3,239.0 184.4,230.5 183.2,246.6 199.3,245.4 192.8,225.2 206.4,236.3 203.6,241.2 196.6,247.9 195.5,248.8 194.5,195.8 205.3,208.0 196.1,252.5 200.3,248.2 201.5,253.8 188.1,225.4 199.3,244.1 192.6,246.2 197.2,254.5 197.1,255.2 199.0,243.9 204.5,247.4 195.4,254.0 218.2,222.6 194.2,218.0 193.4,211.1 214.8,240.6 193.7,210.6 198.8,256.4 210.8,219.7 199.2,242.8 198.8,247.2 196.2,255.1 198.4,256.4 202.5,227.9 193.6,222.7 193.1,244.9 190.0,242.1 201.9,240.5 183.8,213.3 205.8,237.6 198.9,255.9 196.0,252.1 189.9,204.3 202.9,237.4 194.8,246.2 197.5,256.9 198.0,257.5 198.0,257.0 206.1,241.1 194.8,209.8 202.7,233.4 199.2,253.2 208.3,234.9 198.0,257.6 183.2,216.6 207.3,196.0 198.9,255.5 200.5,252.1 197.9,258.0 198.0,256.5 196.7,248.0 199.2,245.3 203.4,253.5 204.3,224.1 188.9,233.0 197.6,256.7 200.4,249.6 211.3,243.3 198.0,257.3 197.8,248.4 196.0,205.4 191.9,245.7 187.8,232.6 201.4,221.7 205.9,236.5 203.5,217.8 193.3,250.7 197.6,256.5 197.3,256.9 209.0,233.7 199.7,255.3 197.9,254.6 195.3,248.0 208.5,238.1 190.6,233.9 197.4,256.6 199.2,250.0 199.2,254.6 198.4,257.0 198.7,252.2 198.4,256.9 185.9,241.5 202.5,242.7 194.8,241.9 198.8,252.5 202.5,220.3 189.1,246.8 201.3,228.0 207.4,244.1 196.9,247.6 198.5,251.6 205.0,245.3 197.9,257.8 197.5,255.0 198.8,253.5 199.2,252.2 210.2,236.8 188.3,222.4 197.6,253.7 196.6,252.9 196.6,242.7 199.6,251.3 198.8,255.4 202.5,204.1 187.5,232.9 201.5,232.9 206.9,246.8 199.4,253.5 210.5,242.6 200.6,251.7 198.3,257.2 196.5,246.4 194.1,246.7 199.3,244.2 214.9,220.9 199.7,250.3 212.7,230.7 197.0,238.3 201.0,248.6 196.8,251.1 182.9,228.9 204.8,180.4 193.2,215.6 215.0,213.7 198.7,246.4 196.9,245.8 200.2,251.7 182.6,241.1 195.9,255.0 213.5,229.7 189.4,248.1 196.2,254.9 201.3,250.6 195.7,237.7 186.7,219.0 197.5,240.9 197.9,219.2 210.0,188.4 194.2,253.1 203.3,215.9 198.5,250.5 195.9,240.6 199.8,252.5 189.2,246.9 187.9,244.3 200.7,250.4 188.2,225.5 198.1,256.3 197.3,256.8 197.9,257.7 181.4,232.9 198.4,252.8 192.5,202.5 183.8,237.6 208.9,231.4 197.4,255.1 195.9,239.3 197.8,257.7 205.8,214.7 205.4,237.0 200.9,244.9 199.7,254.8 196.0,239.6 196.8,241.2 215.3,242.8 201.6,250.0 191.1,234.3 190.3,237.8 194.6,240.5 195.3,184.0 204.1,228.6 203.9,227.2 193.9,236.7 192.3,196.4 209.7,236.4 206.3,221.4 197.8,256.7 205.4,251.9 197.6,254.5 193.9,224.5 189.8,233.2 197.6,255.0 203.5,224.3 188.3,232.0 194.0,250.5 213.3,210.7 200.4,253.2 198.8,254.4 199.3,254.8 179.9,237.6 206.9,190.6 198.0,257.8 197.3,257.2 192.3,248.5 191.1,235.7 206.3,245.7 209.4,219.8 178.7,209.5 192.2,216.8 196.5,237.6 197.9,257.8 198.7,254.9 201.2,225.9 203.0,251.4 190.0,248.6 200.2,253.7 202.0,228.2 194.6,251.5 192.4,240.4 197.9,250.8 200.7,254.3 203.2,209.2 205.3,243.4 199.9,247.8 199.8,245.5 192.7,240.2 198.8,252.2 196.7,254.9 201.5,234.8 203.9,226.8 188.8,238.3 198.9,243.1 198.9,256.1 198.4,256.8 201.5,239.0 198.5,255.7 202.8,242.4 196.9,252.9 212.6,228.8 198.5,250.5 186.4,231.1 197.7,255.6 206.8,242.6 203.9,246.3 196.1,227.5 209.0,229.2 204.0,235.1 200.9,251.9 185.0,194.9 189.3,226.4 201.3,250.3 206.0,233.1 184.1,210.5 200.1,249.4 201.0,237.6 198.4,255.1 198.4,256.0 196.3,243.9 197.2,255.8 197.4,253.2 197.6,249.0 204.5,224.6 212.9,227.8 187.7,248.4 206.3,240.4 196.5,252.6 197.9,256.8 201.3,242.5 199.0,254.3 197.6,249.1 209.7,238.2 181.6,215.6 192.0,245.1 203.5,235.8 185.6,236.2 197.9,255.8 197.5,257.2 195.2,247.4 200.2,243.1 198.3,253.0 196.1,253.6 202.3,245.1 192.0,246.4 199.1,256.3 192.8,229.2 202.2,223.2 193.1,251.5 190.8,243.4 197.4,256.5 191.5,249.8 202.8,210.1 198.6,250.7 183.6,202.5 197.1,255.7 198.0,257.4 192.1,246.6 194.1,226.9 196.7,254.3 196.1,191.3 193.8,201.2 197.6,217.4 188.6,211.0 196.7,247.8 197.5,255.5 186.8,237.9 198.6,254.7 200.1,252.9 192.7,243.7 202.5,235.0 209.0,219.3 190.4,245.6 193.9,233.1 207.0,186.8 188.0,231.1 204.2,227.6 190.9,240.7 196.2,236.4 196.8,226.1 202.3,237.9 199.4,252.9 199.0,254.6 201.4,240.2 202.7,189.3 199.7,237.5 198.4,256.3 199.9,220.7 197.4,257.1 208.3,234.6 215.0,235.0 198.0,257.8 197.7,257.3 205.5,246.1 203.3,251.3 204.0,243.8 195.6,238.8 197.1,256.8 198.3,253.7 201.6,242.8 196.5,252.9 197.0,233.2 196.9,253.1 188.2,236.2 196.7,247.8 200.4,230.0 213.9,221.0 195.8,254.5 205.5,230.3 194.5,250.5 202.8,193.0 196.9,256.7 207.8,244.6 198.0,257.6 195.0,242.4 194.1,250.3 196.9,245.3 197.5,254.9 209.3,187.2 199.4,254.8 196.7,235.4 201.9,253.0 190.8,249.4 204.1,226.1 198.1,257.5 209.9,234.6 194.5,250.2 206.7,249.9 201.7,228.5 196.9,256.2 199.9,255.3 205.6,241.4 191.7,203.0 200.9,254.4 196.0,246.7 197.8,257.6 203.5,245.1 203.4,248.9 189.1,223.9 195.3,219.4 209.9,239.4 196.2,250.4 208.9,245.7 201.9,242.6 195.1,222.0 192.3,199.8 204.8,223.5 197.4,254.7 189.1,247.4 197.9,257.0 185.2,208.1 198.1,257.3 196.2,246.8 196.5,235.4 196.6,254.3 195.1,246.6 199.9,245.7 197.4,254.8 195.3,222.1 191.5,230.0 199.6,242.8 197.3,205.7 194.9,246.7 182.4,233.3 195.4,251.4 200.7,250.4 199.0,245.2 200.6,248.4 198.7,255.1 194.7,233.3 196.7,252.9 202.1,240.8 196.4,256.1 207.6,229.5 187.8,233.0 217.4,210.1 188.4,240.8 198.1,256.4 209.3,240.1 209.3,243.9 207.4,245.6 199.6,241.5 194.5,202.1 209.8,238.4 189.0,247.4 204.8,243.4 193.5,244.8 198.0,257.5 193.3,243.9 201.7,192.3 197.1,244.9 192.3,244.4 192.9,236.6 194.6,240.3 198.6,253.7 207.8,196.1 204.3,234.1 198.2,253.9 182.7,224.8 198.9,254.4 199.0,255.3 215.0,212.7 195.0,250.1 196.5,254.5 202.5,250.6 208.7,210.7 189.7,223.1 212.0,232.4 204.0,241.2 196.5,251.6 188.9,233.4 204.1,212.8 201.9,251.5 207.6,232.6 203.0,222.8 199.2,236.6 199.7,242.5 206.2,231.8 198.0,256.2 197.9,257.2 192.6,250.6 196.0,244.7 197.9,257.8 193.7,252.7 195.1,253.3 182.1,236.7 186.0,244.6 208.0,226.3 211.7,238.0 195.9,185.0 197.6,254.0 207.4,227.6 198.8,256.3 197.9,257.8 194.7,223.1 196.9,256.1 196.5,248.1 197.2,251.8 197.6,253.9 197.4,252.1 210.6,215.6 201.2,245.2 200.9,250.6 199.8,246.5 192.7,250.7 198.8,253.2 196.1,231.3 194.1,244.4 189.5,220.9 197.7,256.5 199.5,243.0 197.0,252.5 197.9,257.8 197.0,254.6 203.9,228.0 197.8,256.5 197.3,256.6 195.7,234.8 198.0,257.7 198.6,256.6 209.7,236.4 195.9,241.5 194.3,253.8 212.9,244.5 210.0,240.9 197.3,254.8 192.0,241.2 191.4,224.1 199.2,252.8 187.6,219.6 197.1,245.7 196.4,230.3 202.5,238.5 198.4,251.7 203.0,248.3 214.1,231.1 204.0,250.0 191.3,221.4 202.6,221.8 205.6,243.4 190.8,245.3 201.9,236.2 197.2,221.6 198.4,255.5 197.8,256.2 210.5,242.0 201.3,250.6 196.5,243.1 202.3,248.9 196.4,254.9 199.0,251.6 198.9,254.4 203.6,219.2 198.4,256.4 199.8,248.4 195.2,249.2 209.7,247.1 197.4,255.1 193.9,224.6 195.6,244.4 194.7,250.1 196.7,234.7 204.2,221.1 207.6,200.9 195.8,253.9 196.2,251.5 183.7,247.2 212.8,221.3 196.2,240.6 190.2,220.2 197.0,186.8 212.4,205.4 201.3,228.8 197.5,253.4 202.3,250.3 190.5,237.9 179.7,216.2 201.2,237.3 194.0,236.4 191.7,241.8 199.1,242.1 199.3,255.4 189.7,238.5 197.7,257.6 195.2,235.5 196.6,254.1 209.7,231.4 185.1,241.7 199.6,250.9 201.5,235.1 197.8,255.3 208.7,242.5 189.9,205.5 181.9,212.6 198.9,248.9 187.6,243.1 193.7,240.7 197.8,257.6 200.5,248.1 195.3,226.8 200.2,246.8 197.5,256.7 188.1,224.7 188.3,231.2 187.1,245.0 196.6,238.3 185.4,242.7 189.9,221.7 216.5,230.8 197.9,258.0 207.6,236.1 198.6,253.7 202.0,246.5 191.1,239.7 186.9,225.6 204.4,216.6 200.1,247.6 186.3,218.6 210.1,202.7 203.2,248.4 203.0,228.8 198.6,255.1 198.0,257.9 196.1,213.7 192.4,240.4 201.1,246.8 199.4,248.0 198.4,256.9 184.5,221.0 196.4,253.0 205.5,248.6 200.6,239.9 198.4,256.6 203.2,226.0 204.2,250.7 196.9,244.9 191.6,237.4 197.6,257.1 194.9,250.1 196.7,255.7 197.8,257.6 195.6,245.6 198.6,250.7 200.5,232.1 190.6,246.4 197.6,255.2 190.0,194.6 197.8,254.2 207.0,238.1 200.6,249.5 198.4,254.7 193.1,244.9 199.8,246.3 197.9,257.9 191.9,206.5 196.7,216.5 193.0,250.0 193.2,245.2 196.0,218.8 191.1,201.8 196.4,243.1 196.1,228.5 206.1,229.2 191.2,203.8 193.1,247.6 196.5,232.9 204.7,227.5 196.8,251.3 192.6,242.6 187.2,243.1 214.8,234.6 193.4,252.5 195.8,249.5 197.8,256.6 181.5,209.2 195.9,254.9 202.4,247.1 188.0,247.6 201.2,250.5 192.6,246.9 201.4,248.3 198.2,254.3 196.7,250.0 187.6,242.9 196.3,247.0 205.9,218.8 197.3,255.8 201.9,196.8 203.7,241.0 211.6,219.3 192.5,239.1 192.9,247.1 187.3,213.7 189.4,214.7 212.1,242.0 195.1,253.1 193.7,252.0 194.3,227.8 201.2,228.8 195.3,254.7 191.6,236.8 196.7,230.7 199.8,254.7 213.8,200.6 200.8,208.2 195.7,252.6 208.2,245.0 194.4,249.4 197.6,256.8 195.2,246.7 197.7,254.4 201.7,231.9 197.7,246.5 190.5,228.6 194.5,249.2 191.2,242.8 193.1,246.2 209.2,245.8 191.9,232.6 199.3,253.9 197.6,256.7 207.9,216.7 195.7,193.1 205.5,234.5 190.9,209.9 194.1,196.9 187.4,241.6 196.3,254.6 209.7,245.0 200.5,252.7 184.5,214.4 212.2,243.7 210.6,245.7 199.5,226.9 190.3,215.6 201.9,204.2 180.5,208.0 195.7,241.3 193.4,237.0 195.7,255.9 194.5,254.6 196.5,247.0 191.4,244.6 204.0,230.5 190.7,246.9 209.2,206.9 198.1,255.8 197.9,258.0 203.1,225.9 200.6,232.0 205.4,251.9 197.1,256.5 182.6,227.8 197.2,254.5 197.9,257.9 199.0,239.5 194.0,249.6 183.7,235.6 199.1,255.1 200.4,254.7 200.5,245.3 196.8,256.4 199.7,249.3 186.6,239.4 200.1,223.2 198.0,257.7 201.7,251.1 186.5,219.4 206.6,224.7 196.7,248.4 192.8,242.2 200.2,254.7 187.2,223.4 200.8,241.5 194.3,254.9 178.7,240.4 197.6,255.9 191.7,230.3 202.4,239.0 196.6,235.5 195.5,252.2 184.2,205.0 216.8,221.4 205.4,249.0 199.6,243.4 198.0,257.7 213.7,245.8 207.4,187.5 200.0,254.7 206.4,211.9 197.7,257.1 197.6,256.6 205.9,246.0 197.9,244.5 196.6,244.3 197.2,252.5 204.3,207.6 204.7,245.0 199.1,255.9 187.0,240.8 196.9,247.8 203.0,243.6 194.9,251.5 198.0,257.9 197.6,253.9 196.5,247.3 198.8,255.3 185.1,209.5 189.9,247.2 198.5,255.7 184.9,228.6 200.0,254.2 197.4,252.6 199.4,230.0 203.4,209.8 190.1,233.2 195.9,250.5 198.4,255.9 197.3,254.7 195.5,243.3 195.3,249.8 186.8,237.2 197.5,253.3 201.4,253.7 197.7,240.9 197.2,255.1 204.7,244.2 199.2,247.0 203.0,239.7 205.2,246.5 198.2,255.0 193.6,234.9 195.8,249.5 192.1,248.5 200.1,232.9 204.5,226.9 204.7,248.0 200.7,226.7 198.7,250.9 181.4,219.6 198.3,257.0 215.8,225.1 192.5,249.5 198.1,255.7 194.1,253.3 196.6,251.2 198.2,252.8 210.4,233.4 197.3,242.7 195.3,223.3 201.9,253.4 190.8,248.9 186.2,249.1 190.9,239.6 218.2,239.3 203.5,250.1 193.4,232.7 198.2,252.7 200.5,237.9 197.8,257.5 193.7,216.9 191.4,240.2 197.7,243.7 197.9,257.6 197.0,254.5 186.6,241.6 197.9,257.3 202.8,251.3 195.6,240.0 210.3,222.4 186.8,244.2 203.4,243.0 195.1,250.5 195.4,253.9 190.7,246.2 207.5,245.4 179.0,224.0 198.2,256.9 197.7,255.4 197.0,241.1 195.4,244.8 195.0,251.1 200.1,242.1 190.6,247.6 204.0,225.4 195.3,250.8 206.5,223.4 197.1,212.6 200.6,254.6 197.2,254.1 189.5,242.2 204.5,230.4 202.5,249.9 198.6,254.0 182.7,237.7 203.9,223.3 202.7,244.3 206.7,231.8 196.5,178.3 197.5,242.7 186.7,242.3 194.7,243.4 215.4,221.3 210.9,234.1 194.7,254.9 199.8,252.8 205.0,218.0 198.9,253.1 197.3,251.0 200.9,243.5 201.8,246.4 203.1,248.8 206.3,243.0 190.8,252.3 213.2,203.2 198.1,256.0 195.9,243.4 200.4,247.4 193.2,234.0 200.8,194.1 189.7,245.6 205.3,234.9 199.7,249.9 197.3,256.3 191.1,191.4 194.4,229.0 195.8,254.2 198.3,254.5 189.6,248.3 201.2,249.2 199.2,247.3 199.7,252.4 181.9,205.4 198.8,255.9 196.5,254.2 216.3,210.9 189.0,243.3 191.2,212.0 193.4,249.6 194.1,246.5 205.4,245.4 197.8,254.3 205.8,241.9 183.5,229.3 216.6,202.8 195.4,245.0 204.6,240.5 193.7,248.6 207.9,215.8 177.6,237.7 194.0,250.8 199.2,252.3 195.8,232.6 206.2,231.1 189.1,225.9 193.5,243.3 201.8,253.5 206.7,241.1 194.4,248.3 199.6,252.0 212.7,234.4 200.6,223.7 197.6,257.1 201.3,208.0 200.2,255.1 200.2,253.6 195.5,247.7 189.2,223.0 194.8,255.3 209.4,239.3 195.4,245.0 201.9,239.1 202.2,252.8 198.0,257.6 197.3,249.7 190.3,251.0 200.9,232.6 194.9,250.6 193.3,242.2 208.0,233.5 194.6,248.3 196.6,225.2 193.6,249.9 195.4,253.4 192.5,249.0 196.0,243.7 195.3,236.1 214.7,235.8 192.2,237.6 190.3,227.7 190.8,250.8 200.4,250.4 202.7,247.2 211.9,207.0 190.2,252.1 183.4,217.7 207.2,235.0 216.6,229.2 198.5,254.2 197.0,252.7 196.6,255.2 197.6,253.6 195.7,228.7 196.7,253.7 195.1,246.0 188.2,230.5 204.2,246.9 196.8,246.1 204.0,238.2 192.9,249.0 197.7,256.8 197.9,257.4 201.5,251.9 185.9,244.2 203.8,237.0 199.6,238.6 208.5,240.9 190.9,249.2 195.9,247.4 198.0,257.4 197.9,256.0 209.5,240.8 198.4,256.5 201.1,218.9 193.3,244.6 205.6,249.6 193.5,247.2 198.8,255.0 204.2,183.5 198.0,257.8 197.7,257.2 196.7,256.2 197.2,253.3 198.4,249.5 215.8,224.0 195.3,253.6 208.0,243.0 199.0,252.7 179.9,222.7 209.7,239.2 197.8,253.8 212.1,223.4 192.4,239.0 207.0,238.7 195.7,249.4 193.0,226.7 207.6,237.5 201.5,241.8 199.8,253.8 203.1,244.4 198.8,250.8 196.3,228.2 212.7,219.8 196.6,227.8 193.9,253.2 200.5,244.0 199.9,235.9 199.0,255.7 202.4,249.7 208.7,220.2 201.2,235.1 200.2,251.6 212.4,231.3 213.7,205.5 197.4,255.0 196.9,253.5 196.9,252.7 197.5,240.0 194.5,247.0 206.1,249.2 213.5,210.2 184.6,234.7 206.2,201.8 206.1,215.4 199.1,241.5 197.2,237.2 196.5,241.3 198.4,252.0 201.1,252.3 192.2,208.6 203.0,202.4 202.9,249.9 204.1,247.6 197.9,257.5 211.5,247.8 196.5,240.4 194.5,247.4 201.1,251.8 197.3,255.7 194.9,241.7 194.3,231.6 187.9,250.2 205.8,227.7 203.7,225.0 208.3,235.8 193.2,250.6 189.0,244.1 191.5,251.1 190.6,238.5 213.1,221.9 199.0,255.7 211.6,235.0 197.9,255.6 198.4,254.3 194.3,212.0 199.1,251.6 197.2,252.8 198.6,255.8 199.9,240.7 196.3,240.7 206.9,251.2 197.0,256.4 207.1,245.4 191.1,241.0 183.2,228.4 208.6,229.9 194.8,235.5 214.1,217.0 205.0,225.5 201.0,248.6 202.7,245.3 197.3,245.9 195.6,249.7 198.8,246.7 193.9,245.9 203.4,249.6 202.8,245.9 197.2,243.4 209.3,243.9 203.2,246.6 197.1,228.2 192.1,248.4 193.9,226.2 201.1,252.2 181.3,234.9 205.6,217.3 198.6,249.7 196.5,255.8 199.9,230.8 194.3,240.2 198.0,257.7 198.3,252.2 197.9,257.8 184.4,208.8 197.2,253.2 194.6,233.6 212.0,234.5 197.6,254.4 198.8,256.1 192.1,252.8 190.1,244.3 196.2,254.9 197.5,245.5 208.2,208.7 192.0,236.4 205.2,232.6 195.1,248.2 183.7,228.7 211.5,222.2 198.3,255.9 193.4,248.4 197.9,257.7 198.0,257.3 207.5,240.0 199.7,253.6 195.7,243.7 196.8,253.8 201.4,252.2 193.9,243.7 203.5,236.7 192.7,249.0 196.9,256.3 197.1,251.5 198.0,257.7 190.1,241.2 197.8,257.7 197.1,250.9 195.0,252.1 188.5,218.0 193.1,239.9 197.2,252.5 200.4,253.7 191.0,247.1 206.2,223.8 197.9,256.4 204.0,216.8 185.9,207.8 201.3,240.0 199.6,233.2 204.4,193.5 197.9,257.5 197.8,256.3 210.6,213.4 205.9,202.6 197.8,257.6 198.0,257.5 197.9,257.8 193.9,250.6 204.8,248.1 200.0,234.3 191.7,237.1 198.9,255.0 204.9,229.0 192.5,245.5 208.7,232.8 201.0,253.7 197.8,249.5 189.3,246.7 197.9,257.8 197.0,251.0 204.0,249.7 206.3,244.8 199.3,254.7 199.1,255.5 178.3,221.1 196.1,238.3 197.8,257.2 197.9,257.7 197.6,246.7 195.7,252.5 196.9,253.7 200.9,235.5 190.0,206.7 193.7,247.3 199.6,225.8 200.8,251.2 205.3,251.6 197.3,254.8 184.0,226.0 193.7,236.7 197.8,256.9 194.3,245.9 198.2,255.9 198.1,257.1 197.2,255.2 195.7,234.4 194.9,252.9 213.7,237.4 186.0,235.9 199.2,248.9 199.6,251.2 183.6,238.1 187.8,237.9 192.7,250.5 200.4,250.5 187.2,225.0 193.6,221.5 201.3,251.0 200.8,239.9 188.9,247.7 203.7,246.5 197.0,250.5 200.4,249.7 200.3,254.8 203.5,242.5 196.3,239.1 202.7,183.6 191.1,235.5 201.1,253.7 197.8,256.6 199.6,249.9 195.3,251.7 195.3,247.2 188.5,246.8 202.6,247.8 195.9,237.3 197.4,255.2 185.2,238.0 199.9,239.6 194.9,250.5 196.8,243.7 204.1,251.9 208.8,229.0 198.6,249.4 197.5,250.0 187.3,223.2 203.8,227.1 191.0,242.5 200.1,247.9 193.6,247.8 192.8,250.2 213.0,236.7 202.6,224.6 197.5,239.9 193.6,239.7 198.8,255.7 200.7,247.5 191.4,230.6 201.8,202.3 194.7,253.9 196.1,252.7 190.6,230.6 196.1,247.3 197.7,255.9 198.2,251.9 199.4,255.2 195.7,248.7 194.9,236.5 212.6,228.4 193.0,182.6 197.6,253.6 207.7,235.7 199.4,253.0 198.2,254.8 197.3,255.3 211.4,235.9 197.9,254.4 203.2,224.1 194.6,250.3 197.9,255.3 205.1,219.5 194.6,232.4 197.3,254.9 201.1,250.3 204.8,241.0 201.6,247.8 198.7,254.8 190.0,243.6 204.0,223.6 194.1,244.3 199.4,247.3 204.9,249.5 198.0,257.4 209.1,222.5 197.9,258.0 201.5,228.2 204.2,248.9 202.0,249.5 199.3,242.1 203.5,250.8 191.4,245.3 208.5,242.3 207.8,218.9 187.5,240.7 192.7,236.1 199.0,255.3 197.0,254.3 198.4,256.6 199.6,252.7 215.6,219.0 202.5,226.9 204.8,250.4 203.8,230.6 199.6,250.6 193.2,231.4 195.3,246.5 194.3,248.1 198.1,257.6 215.0,228.6 191.8,242.5 197.4,204.0 190.0,249.4 190.4,240.9 198.8,254.5 198.7,242.2 199.7,245.5 200.5,245.2 199.2,254.6 192.3,243.6 194.5,253.6 206.9,220.6 199.7,254.3 197.5,257.2 194.7,246.1 196.5,242.2 196.2,194.5 197.8,257.6 206.9,238.3 206.7,231.0 187.4,245.7 200.3,228.1 199.3,253.9 199.4,246.8 197.4,256.2 188.7,227.6 198.2,257.2 198.7,256.6 202.7,218.0 197.0,241.9 197.9,247.5 197.5,255.9 198.2,254.3 197.6,222.7 195.5,250.0 190.9,238.8 189.0,246.0 197.3,252.0 195.4,252.6 196.7,245.8 200.4,238.1 207.4,238.7 195.0,247.3 198.4,254.8 201.3,246.5 209.2,228.1 198.1,256.9 178.5,240.6 202.7,233.9 196.6,254.0 198.4,253.6 201.1,225.8 205.0,230.6 209.2,244.3 199.3,254.4 192.1,249.7 203.8,241.8 199.1,252.9 197.2,230.9 198.3,256.6 199.8,247.1 196.6,253.1 187.1,243.7 197.9,258.0 204.1,250.1 201.8,246.0 198.3,253.6 191.2,209.3 197.1,226.5 185.9,230.0 198.2,257.2 199.1,249.3 186.0,206.1 197.8,256.4 199.1,255.4 203.6,244.9 204.5,242.9 193.5,204.0 188.3,226.8 211.8,218.1 194.4,240.8 203.3,242.9 191.2,244.2 196.7,254.0 198.0,257.3 196.8,255.3 196.0,253.2 205.2,245.7 201.1,250.1 196.6,254.7 199.4,253.7 187.1,212.8 196.8,255.2 199.3,253.1 192.8,251.2 184.7,237.5 201.3,230.4 216.5,215.0 193.2,240.6 196.0,251.1 199.0,253.5 198.3,257.3 186.3,220.5 218.7,233.1 203.3,252.2 180.8,220.6 205.4,226.5 197.7,256.5 187.2,243.1 206.2,224.4 199.4,237.0 196.2,256.2 196.8,254.6 199.7,246.5 200.5,206.1 198.0,257.4 200.3,247.2 189.4,231.3 209.2,222.6 197.3,256.7 197.4,256.7 205.1,235.2 198.9,251.6 204.9,246.2 197.2,245.9 197.7,256.7 206.6,232.3 198.1,257.2 196.9,253.1 193.9,248.6 200.5,251.4 196.8,234.0 190.5,236.5 198.0,257.5 189.5,243.2 196.6,249.3 197.2,256.9 197.9,257.9 192.2,236.5 198.6,254.9 199.4,231.9 198.8,256.0 184.7,239.8 208.8,245.8 201.7,237.3 197.8,257.6 205.7,244.0 188.1,218.7 197.9,258.0 198.5,249.5 186.5,234.8 197.9,257.4 195.0,226.8 193.4,222.6 212.3,223.7 215.5,221.0 197.6,248.8 200.3,243.0 197.1,244.5 193.6,249.9 195.4,248.6 198.7,249.2 199.7,243.3 210.6,221.5 188.2,245.8 199.8,225.0 197.1,250.5 187.9,227.0 197.9,255.2 209.0,244.8 200.5,252.5 201.1,240.6 194.5,248.0 192.2,195.5 201.0,248.8 196.7,256.0 195.1,253.1 197.0,248.4 199.6,241.4 196.4,251.6 196.9,251.2 200.6,250.0 199.6,243.8 206.2,248.9 205.1,239.0 200.6,248.9 199.3,246.1 197.0,256.5 212.0,217.7 200.8,253.2 188.6,244.9 192.7,216.1 212.7,232.1 195.6,240.7 191.4,202.3 199.9,255.8 194.9,247.9 188.8,246.4 201.6,252.9 201.4,208.2 203.4,227.5 192.5,243.4 196.2,238.6 196.5,243.5 208.4,212.8 200.3,237.8 188.8,214.4 181.7,231.5 198.7,256.6 181.4,205.7 197.0,253.7 195.9,241.1 202.5,249.2 197.0,250.5 205.3,243.8 194.2,248.5 198.3,253.9 203.3,242.1 196.8,208.2 188.3,223.6 191.9,237.4 199.5,242.8 201.7,253.9 196.3,252.6 197.9,244.1 190.2,244.2 207.6,228.8 198.4,249.8 207.1,249.7 191.6,229.9 217.6,221.5 193.2,245.3 196.2,229.3 184.4,230.3 206.6,246.6 190.4,243.8 198.9,255.1 207.0,249.4 196.5,254.8 195.0,252.0 209.9,244.1 197.2,253.9 197.8,254.1 197.9,257.9 201.2,228.4 193.5,197.6 197.9,257.9 196.7,253.3 204.3,248.3 189.8,238.0 198.2,255.9 200.5,237.2 196.4,246.3 199.1,252.3 212.3,202.9 203.2,246.5 185.6,246.1 200.7,252.8 198.5,253.0 199.2,254.3 198.8,251.5 193.5,238.3 196.0,254.9 213.2,230.3 210.7,240.7 206.0,230.3 209.1,206.7 196.7,253.2 196.9,250.8 197.4,256.1 204.4,247.7 198.6,255.9 188.7,215.4 197.7,256.5 197.7,257.1 203.5,241.6 200.6,218.7 197.9,256.9 194.7,238.2 196.2,249.9 188.1,232.2 198.8,256.6 198.0,257.4 207.5,207.4 191.6,219.8 191.5,240.5 204.1,196.2 199.9,255.5 194.5,253.0 191.1,241.9 194.6,249.9 192.3,248.9 215.7,236.5 200.2,239.0 201.7,244.8 196.2,253.2 194.6,234.8 202.8,244.5 198.5,255.8 205.7,245.4 188.2,248.2 198.4,250.7 198.1,257.4 197.1,255.4 198.9,256.6 198.4,256.6 196.4,243.9 198.0,256.9 215.6,235.1 203.7,239.4 205.8,205.2 200.8,247.3 190.7,200.3 199.9,252.5 198.8,255.4 197.9,257.9 201.8,246.4 212.0,234.5 190.0,224.4 204.3,241.2 202.5,246.1 202.8,190.1 196.5,251.6 197.8,252.5 179.9,223.7 187.8,236.1 203.5,228.4 195.5,246.7 197.9,257.7 201.6,241.8 195.7,240.4 203.1,233.8 199.0,246.6 197.8,251.6 195.9,253.8 197.5,246.7 191.9,247.0 205.3,251.1 191.2,241.0 195.3,216.4 182.1,193.2 201.5,243.1 198.5,257.0 197.5,252.7 202.1,242.7 196.4,255.7 197.4,256.7 200.1,241.9 191.0,247.1 193.6,249.7 203.6,221.0 197.1,243.8 197.0,250.8 199.1,248.6 191.0,226.8 204.9,233.6 196.9,251.9 189.8,241.9 196.0,221.0 197.9,258.0 204.4,252.6 197.8,247.3 206.3,210.6 201.3,236.3 195.2,254.2 197.9,257.8 197.0,253.3 198.1,255.4 208.2,243.7 210.6,225.5 188.7,225.9 206.9,197.7 203.3,248.0 199.0,243.5 186.7,245.4 201.9,246.2 195.9,254.4 199.0,249.6 202.2,251.9 197.5,256.3 187.4,208.5 197.1,246.7 200.6,255.4 200.6,233.9 197.8,253.7 189.7,225.2 201.3,254.0 199.3,254.1 197.0,233.3 194.6,241.1 210.9,240.2 197.2,248.1 199.0,244.5 198.7,252.8 202.8,227.2 193.0,239.1 197.7,236.8 193.0,248.5 191.0,238.5 203.0,241.5 197.6,249.1 196.5,248.7 197.5,254.7 199.6,252.1 196.4,248.6 197.5,246.5 197.1,241.9 202.1,242.2 200.8,245.2 197.4,255.9 197.9,257.8 196.9,255.2 191.5,231.6 185.4,223.0 211.1,201.4 198.7,249.7 196.0,201.3 196.8,248.3 191.0,205.6 193.4,248.0 202.3,246.8 197.1,250.5 187.0,241.0 198.3,257.0 207.8,190.8 189.2,234.1 198.5,254.5 200.0,241.5 204.4,206.4 196.9,244.1 197.0,218.0 192.4,244.9 202.6,238.4 205.0,220.7 193.6,219.0 195.3,247.1 197.6,248.1 200.2,243.5 194.1,232.9 201.8,252.2 195.5,185.3 201.1,242.4 187.6,231.4 204.8,225.6 200.4,211.0 200.9,224.8 198.0,257.5 197.9,257.9 215.8,240.0 189.8,245.0 193.7,210.5 197.5,253.4 199.6,247.0 200.9,235.4 193.4,240.8 202.2,206.9 198.1,256.0 199.5,230.1 201.3,242.8 196.5,248.6 187.5,239.7 199.5,253.1 195.7,246.7 203.6,236.5 197.6,256.3 194.4,245.7 192.0,192.1 191.7,219.1 198.5,255.0 201.8,248.2 200.7,235.4 198.3,251.2 192.7,249.8 190.6,215.9 211.8,243.4 198.3,256.6 197.1,256.9 201.6,249.9 197.8,248.2 205.3,243.4 186.3,245.5 203.8,227.6 197.1,227.8 197.4,252.6 197.4,242.6 200.0,254.8 193.2,250.0 199.7,252.1 202.3,242.1 203.2,218.8 195.1,232.5 197.5,253.3 195.5,253.7 188.4,236.1 199.7,228.5 201.3,251.9 198.0,257.0 197.4,257.0 214.9,244.2 198.4,253.1 190.4,245.6 198.4,254.6 191.3,236.1 192.5,244.5 196.0,255.5 189.8,248.3 193.0,247.7 204.1,228.9 197.7,241.5 193.1,247.0 191.9,246.1 198.3,256.9 193.2,236.0 203.5,245.3 195.3,250.6 197.5,238.4 197.8,255.8 191.7,246.0 197.5,255.5 187.7,246.8 204.4,211.6 202.4,242.7 198.6,256.8 198.7,255.0 191.5,240.1 197.5,220.0 193.0,238.2 184.8,240.8 209.5,226.2 197.7,239.8 199.3,250.3 200.7,252.2 200.7,251.4 184.8,197.9 202.7,240.9 196.0,253.6 200.6,231.9 187.7,201.9 198.9,239.0 181.8,233.8 202.3,246.4 210.7,238.7 203.4,245.5 200.6,248.5 198.4,251.4 201.4,242.1 200.6,227.2 200.6,249.8 186.4,243.7 197.9,256.9 188.5,242.9 197.2,255.2 198.0,196.5 176.6,232.4 195.3,246.0 198.6,249.7 197.8,249.9 211.4,236.1 204.0,243.8 191.2,226.2 204.3,240.4 199.2,252.7 197.6,240.9 209.8,228.7 199.3,252.2 196.8,254.1 211.5,196.5 207.4,244.5 203.0,231.9 197.4,233.2 195.2,223.7 200.4,215.8 209.5,239.4 196.0,254.8 198.0,257.7 198.1,255.0 197.8,256.8 195.0,252.2 204.5,241.0 198.8,255.6 189.6,240.8 197.7,254.3 198.1,257.4 214.3,214.8 196.4,253.3 190.2,251.6 188.0,205.4 193.7,251.0 209.1,232.4 182.2,239.3 200.2,242.5 196.0,248.3 190.2,236.6 190.4,249.1 197.2,254.9 199.9,246.9 200.0,228.2 199.4,250.6 196.3,242.6 207.3,236.8 201.0,251.6 198.3,256.7 183.2,241.0 200.2,248.3 215.4,234.4 210.4,242.1 198.3,253.7 198.0,257.9 197.1,242.9 201.7,233.1 206.1,232.0 203.5,249.2 193.6,207.8 200.1,253.6 205.4,244.4 200.1,254.2 199.6,250.5 191.7,237.1 196.8,250.6 194.3,247.4 195.9,224.5 201.0,247.4 202.3,217.5 200.2,251.0 199.9,237.7 195.1,250.2 194.8,243.4 195.2,242.5 195.0,236.9 201.9,235.7 200.7,251.6 215.2,218.7 208.2,230.9 200.5,238.7 182.2,234.4 197.9,254.7 203.8,240.1 200.7,243.4 209.7,213.7 197.9,257.8 203.2,230.3 196.0,242.4 197.8,255.2 204.9,239.8 195.0,213.1 194.3,233.2 189.2,205.9 190.8,242.3 211.4,241.5 208.5,229.6 187.1,226.1 203.2,222.2 202.1,245.3 194.0,230.7 194.2,239.4 207.8,236.5 205.2,236.6 197.2,249.9 207.9,240.7 198.3,251.0 210.6,245.6 201.5,213.7 198.5,244.8 192.6,209.2 198.4,256.6 197.8,256.9 197.4,256.1 200.7,246.0 197.5,250.2 188.4,235.7 197.7,256.5 196.2,229.0 206.0,247.9 194.1,236.0 189.6,235.1 193.6,249.7 204.8,206.7 194.8,250.9 199.8,254.0 202.1,242.8 187.6,227.1 197.7,254.8 188.8,244.3 181.5,229.8 198.6,256.7 192.4,229.6 188.6,242.8 205.5,240.3 192.7,197.5 199.2,234.7 197.5,257.2 205.6,219.3 180.9,228.0 195.1,252.4 205.5,249.3 196.6,217.0 198.2,257.3 192.4,251.2 189.0,232.1 199.9,232.7 199.2,255.2 192.1,244.5 207.6,243.8 201.3,246.8 184.5,239.4 200.5,221.4 196.4,231.6 211.7,210.8 197.9,257.9 190.8,240.9 197.0,253.6 194.1,251.2 196.8,249.8 198.0,257.8 203.4,247.7 194.7,243.6 214.8,223.8 191.5,244.1 196.5,253.4 201.2,232.4 201.8,234.2 200.1,252.9 191.0,248.3 203.9,235.1 202.3,225.9 198.3,256.4 198.2,256.4 185.4,199.5 190.9,235.8 201.5,242.3 194.2,251.2 196.7,255.2 197.6,256.0 200.0,227.5 201.8,246.8 197.3,248.7 201.9,251.7 198.9,243.3 180.7,219.5 199.3,246.3 206.5,243.9 201.2,250.6 200.5,252.0 194.1,232.6 193.7,191.8 198.0,257.9 197.1,241.0 198.2,255.1 212.1,236.4 195.7,252.3 197.8,257.1 204.0,242.6 201.1,251.4 206.0,219.9 199.0,253.6 182.3,194.7 215.2,227.5 197.9,256.0 194.2,245.7 197.6,242.0 196.2,252.3 191.7,248.5 184.8,241.1 205.5,240.8 213.4,202.9 201.6,246.4 197.9,255.4 190.5,245.7 195.5,238.9 208.0,234.5 219.2,231.4 208.2,235.0 198.4,252.2 206.2,248.1 196.4,252.7 183.6,237.2 203.0,198.2 184.0,235.6 202.1,250.9 201.9,210.4 192.9,227.0 191.1,241.2 208.7,233.5 201.0,249.5 205.6,239.8 200.3,255.5 197.7,253.4 198.8,256.4 198.0,257.9 197.6,256.9 200.5,238.0 205.0,249.4 197.8,244.7 199.1,252.2 185.1,238.8 183.9,222.4 186.2,244.2 197.5,255.5 206.5,234.9 186.2,236.9 198.5,253.6 188.2,217.0 203.9,215.0 195.3,254.0 208.3,192.8 199.5,252.6 190.2,238.9 199.8,233.3 188.7,216.0 198.7,255.0 217.0,230.5 190.4,233.6 195.7,244.4 197.1,247.6 202.3,250.6 199.6,254.7 197.9,256.9 185.7,229.6 202.4,237.8 195.7,233.5 203.8,218.4 199.3,253.8 194.3,252.6 191.8,238.3 184.6,245.6 194.9,232.5 196.8,255.5 201.8,249.2 198.3,253.1 198.4,255.7 195.6,234.7 197.1,255.2 213.7,239.4 206.7,218.0 192.2,197.8 198.5,246.2 199.6,234.5 196.0,230.7 197.3,255.6 197.7,250.7 200.5,252.0 193.7,248.2 197.5,237.8 202.3,209.8 196.0,223.2 215.8,230.1 194.8,237.5 204.1,251.9 200.3,252.5 196.8,225.4 194.0,194.1 195.5,250.1 198.8,246.8 206.3,229.8 196.9,256.3 198.6,249.3 204.1,240.6 198.1,257.5 201.7,252.3 196.1,254.6 200.9,220.0 217.0,228.9 192.0,217.4 200.4,227.4 186.8,223.6 185.8,215.3 197.5,255.2 199.4,248.6 194.2,187.8 197.1,255.6 186.8,235.1 198.3,255.1 200.7,253.8 195.3,248.4 209.3,222.1 196.8,249.0 203.3,207.1 194.0,224.1 208.6,197.9 194.0,223.1 207.9,245.7 195.3,198.5 203.3,244.4 206.7,220.9 184.7,238.5 211.1,215.3 201.6,242.8 197.3,256.1 199.4,232.7 192.8,240.7 197.7,257.5 200.2,229.4 203.3,252.1 189.3,223.5 198.9,255.4 202.3,230.1 197.4,198.5 191.7,240.4 201.0,223.4 199.1,253.5 197.9,258.0 196.2,250.7 198.3,254.9 205.6,244.7 197.0,218.5 203.8,211.5 196.8,249.9 203.4,240.5 198.2,256.1 193.3,243.5 181.0,211.7 197.8,257.5 208.3,184.5 191.8,251.2 193.9,233.2 210.5,218.0 197.9,254.3 196.6,233.1 203.6,249.8 198.3,256.9 195.5,233.9 194.9,230.2 193.6,247.3 199.0,246.9 198.5,250.6 198.0,256.7 202.8,234.8 201.9,247.4 198.0,257.9 198.9,247.1 196.9,256.3 212.2,239.2 200.3,248.6 195.8,239.4 199.2,249.1 201.9,250.4 197.9,257.6 197.4,248.2 194.5,237.0 197.5,257.3 197.5,237.5 202.0,243.3 198.9,245.4 197.3,244.7 194.3,233.9 204.4,232.9 197.1,235.3 191.5,222.1 207.0,251.4 199.5,245.7 215.1,241.8 200.0,210.8 192.0,251.0 189.2,220.3 197.7,257.0 197.9,253.0 205.7,206.0 204.1,204.0 199.3,255.8 199.3,236.8 210.6,231.1 198.7,255.1 200.9,253.7 207.8,231.1 198.6,256.0 206.7,237.6 198.0,257.6 181.3,242.5 204.9,249.1 197.8,256.7 203.5,243.0 199.2,239.0 196.0,249.1 182.4,226.2 206.2,226.0 197.3,234.1 202.3,251.0 198.0,257.8 202.9,223.5 193.6,215.6 185.2,222.9 182.0,232.1 200.3,254.5 209.0,234.6 200.6,248.6 198.5,256.9 198.2,257.2 197.7,234.4 201.0,239.1 203.6,248.7 199.3,233.1 195.3,217.4 207.7,223.9 197.1,251.7 189.7,215.0 199.1,235.3 206.5,231.4 198.5,256.0 201.7,248.7 201.4,251.1 209.7,244.4 201.1,222.9 213.3,235.0 201.1,234.5 190.5,242.5 202.4,232.8 203.7,250.3 196.8,252.3 199.9,245.7 201.9,188.3 216.2,226.7 193.0,219.7 196.7,254.7 215.2,233.9 197.8,256.0 198.3,256.7 193.2,206.1 197.7,256.5 197.9,257.9 198.9,256.5 208.3,227.1 198.1,257.6 202.2,215.5 186.7,242.5 202.8,234.9 197.9,257.9 197.8,256.5 198.6,254.7 199.8,248.8 197.0,245.4 194.4,231.6 193.3,243.1 197.3,250.9 202.6,208.9 195.0,243.7 208.9,238.5 193.9,194.6 203.3,251.5 199.6,254.6 194.0,252.5 196.9,255.4 203.1,252.4 199.8,253.6 195.5,221.1 204.3,246.9 199.1,250.5 187.9,243.8 195.1,180.2 207.2,238.0 187.4,229.2 199.3,255.2 197.7,256.4 206.6,247.7 186.0,203.4 183.1,245.5 200.3,223.7 199.5,254.9 198.7,256.7 197.1,249.9 211.4,227.1 206.6,251.1 192.3,235.2 197.6,254.9 200.3,209.1 201.7,227.6 201.7,215.6 201.1,254.1 191.1,236.5 187.4,219.5 197.9,251.0 194.6,248.8 189.5,215.0 198.7,254.5 200.0,251.4 192.8,227.9 207.2,241.5 196.0,233.2 191.1,248.0 204.8,241.7 194.1,250.6 197.2,252.4 213.9,236.4 200.5,249.7 197.8,254.2 200.0,243.6 205.2,248.2 196.3,252.0 197.1,255.8 211.6,231.1 202.8,188.8 205.8,185.2 200.3,255.4 196.7,236.1 211.2,200.0 200.2,230.5 204.6,236.8 192.3,250.1 196.5,251.0 202.9,240.1 196.2,246.8 187.1,209.8 206.7,251.3 195.9,238.6 206.1,238.0 194.9,228.9 195.4,237.6 204.5,238.9 208.7,212.9 199.0,235.8 196.8,246.3 203.3,220.1 197.1,201.7 199.4,248.9 206.1,244.7 197.3,246.3 199.3,231.7 212.8,224.2 197.1,241.4 204.8,246.9 202.3,229.2 208.3,239.8 205.5,238.0 194.8,227.9 192.9,226.5 193.7,239.1 194.6,211.2 204.2,235.3 198.7,255.0 213.9,227.0 207.8,194.4 194.4,248.0 193.1,214.1 203.0,249.6 190.0,244.5 200.5,253.8 197.9,258.0 195.6,252.5 196.6,228.1 195.8,196.2 190.7,224.5 192.5,244.8 189.8,245.9 190.2,236.4 199.1,251.4 198.0,257.7 205.6,241.3 202.1,237.5 191.7,239.5 193.7,248.8 194.2,219.3 193.4,240.1 204.9,217.4 192.9,178.4 190.9,237.9 200.8,253.8 189.7,227.5 201.1,248.2 190.8,239.2 191.9,239.6 196.7,254.7 194.5,209.9 198.1,257.4 190.8,245.1 193.7,245.5 198.0,257.6 196.8,251.8 205.8,214.1 216.2,230.0 198.1,257.7 196.3,244.8 179.0,235.4 197.9,252.0 194.6,249.4 197.0,255.1 199.9,253.1 207.5,223.2 202.8,242.7 197.1,243.8 201.1,252.2 210.2,241.0 199.3,254.2 190.3,246.2 203.9,223.5 198.4,253.7 196.0,240.9 198.0,257.7 195.1,228.4 190.6,248.3 201.6,230.2 197.9,254.7 197.4,256.2 208.2,181.2 195.2,248.7 199.2,239.1 198.5,252.9 208.9,242.8 213.0,224.1 207.1,236.6 201.1,239.8 183.4,194.5 189.0,247.1 192.8,253.2 197.8,256.6 212.3,235.1 194.3,247.7 194.1,219.2 198.4,255.1 199.6,247.2 198.0,220.1 196.9,254.7 195.2,250.2 199.2,253.4 193.1,240.4 204.2,228.2 199.4,250.7 203.9,241.8 197.6,253.7 191.1,214.7 201.9,248.5 190.1,242.1 203.0,252.1 182.7,243.6 205.5,232.9 201.5,246.5 210.4,220.4 193.4,246.8 192.9,249.4 193.7,237.0 205.6,202.0 191.6,226.9 192.1,208.9 202.2,247.0 192.7,238.5 209.5,245.5 206.9,187.8 206.8,247.1 182.6,235.4 186.6,239.4 199.8,248.4 200.2,254.6 196.0,228.5 198.0,257.6 209.2,198.7 198.6,254.7 197.8,257.2 197.6,223.4 207.8,204.5 193.9,251.1 203.7,220.2 203.1,249.1 194.1,250.8 197.5,254.8 178.5,206.4 203.8,247.2 197.4,219.3 185.1,239.9 200.8,254.3 204.9,251.6 197.7,253.3 207.5,233.5 213.0,209.8 196.5,253.9 198.1,256.9 196.5,250.5 198.0,257.5 192.2,235.3 196.2,253.8 200.0,223.5 198.9,249.8 197.1,231.3 217.8,240.4 187.0,219.8 204.2,217.5 196.3,233.6 202.7,250.2 185.1,216.1 208.3,247.2 205.3,235.2 201.4,247.4 191.4,242.2 201.3,224.1 197.7,256.9 197.3,255.6 201.1,246.4 195.8,254.9 197.9,257.7 200.3,253.3 198.5,256.6 198.1,256.8 191.5,244.9 192.5,245.1 197.4,257.1 195.7,249.8 197.9,256.6 194.5,248.5 209.6,223.4 210.8,227.5 193.6,252.0 204.8,237.0 200.3,233.9 199.8,253.1 197.5,256.1 205.8,232.3 199.0,251.3 190.4,199.2 207.1,202.2 201.1,252.5 195.2,239.8 196.4,217.0 191.2,228.0 208.3,231.6 193.5,250.9 187.4,239.6 203.8,249.5 200.0,252.1 197.9,257.1 199.0,254.3 198.3,256.4 197.9,255.1 189.8,231.9 185.9,245.9 197.6,237.8 196.0,254.6 199.2,256.3 189.0,202.7 209.6,241.0 202.8,249.6 185.9,235.6 195.0,249.6 202.4,248.8 196.0,241.7 202.0,251.9 193.8,250.5 197.1,246.8 198.2,254.1 197.7,250.8 193.1,218.8 201.0,249.8 197.1,246.0 212.0,245.3 187.3,240.9 204.2,242.0 201.8,253.7 197.4,245.6 192.5,231.5 196.8,255.0 197.7,257.5 201.1,234.1 207.8,248.0 200.0,255.7 199.7,251.2 185.6,238.5 217.6,212.3 197.8,256.2 199.2,252.3 199.7,250.3 201.6,253.6 181.0,203.8 196.8,239.5 196.4,253.0 195.8,249.9 194.8,236.6 206.7,228.4 197.9,257.9 196.5,203.2 197.8,253.2 196.2,250.0 197.9,253.9 216.6,232.3 205.4,234.1 196.1,243.7 195.6,249.0 202.0,215.6 197.3,240.4 199.1,247.4 203.0,245.0 202.2,250.1 211.3,246.7 202.0,253.8 205.9,242.5 201.4,218.5 217.1,221.5 195.9,252.9 196.4,222.8 197.9,257.8 204.0,238.4 198.1,257.1 198.8,256.0 197.3,248.8 199.7,223.2 203.9,244.1 196.9,251.7 212.4,236.0 196.4,252.4 196.8,252.6 196.5,251.8 188.8,244.9 195.8,214.3 201.6,249.2 195.1,247.8 198.0,257.6 180.2,220.4 197.8,255.9 190.4,241.4 196.9,217.6 193.4,252.8 207.7,219.9 199.3,240.5 198.0,257.8 194.4,253.1 194.4,227.2 199.4,255.6 197.2,255.5 198.7,252.0 193.8,248.1 195.6,248.4 195.8,229.7 202.5,239.4 206.4,237.4 197.7,253.1 207.3,228.8 217.4,210.3 191.6,243.4 216.8,239.3 204.4,232.0 187.8,242.4 198.0,257.9 199.7,254.1 206.6,204.8 195.2,228.3 190.8,212.5 196.2,236.5 203.0,208.3 196.9,250.5 193.2,241.5 207.0,242.1 202.7,233.4 201.4,228.4 199.1,255.6 197.5,233.6 184.5,217.9 197.3,244.9 194.6,212.3 207.4,248.3 213.6,238.7 204.1,250.0 207.0,243.9 200.5,240.0 187.4,244.5 187.6,240.0 196.7,215.0 178.6,228.0 199.3,224.7 185.3,206.8 189.3,226.8 204.8,218.5 206.6,244.0 198.6,253.2 196.5,252.8 195.0,204.7 198.8,250.3 208.1,238.4 199.7,253.0 206.1,212.1 212.1,196.5 207.0,220.8 197.6,255.9 196.6,243.6 202.9,244.9 189.7,238.8 200.7,252.0 199.9,246.7 203.6,228.8 195.7,178.7 199.7,230.0 198.0,210.2 206.8,246.5 180.1,238.8 198.0,257.7 199.8,252.7 198.0,257.9 197.8,255.8 197.4,255.7 195.9,251.5 207.2,248.3 191.8,242.1 202.2,241.3 194.3,233.6 204.9,194.5 196.7,243.8 204.0,221.5 197.9,257.6 202.4,189.2 202.0,236.5 213.9,210.9 194.7,253.6 194.8,249.4 196.3,255.1 204.2,242.0 196.5,252.9 184.1,223.9 201.5,249.9 198.9,246.8 198.3,256.3 192.8,252.2 191.3,242.4 206.1,240.8 194.8,228.1 201.2,249.1 198.0,257.9 199.1,254.7 197.4,254.3 203.2,241.7 203.3,251.8 186.8,244.4 198.0,257.4 198.6,252.1 196.0,255.9 186.1,235.5 203.2,236.1 216.8,221.9 197.8,256.5 209.4,226.7 204.0,225.4 199.1,253.2 197.6,243.3 200.2,253.4 190.1,230.5 195.9,241.8 200.8,248.6 193.8,221.0 200.0,254.9 193.8,254.1 198.9,249.9 205.1,229.0 201.1,251.4 203.7,250.7 205.2,252.4 196.6,255.6 195.0,236.2 198.0,257.5 198.9,254.5 194.2,249.7 181.6,234.4 189.7,245.6 195.0,251.2 202.9,248.1 196.7,230.8 187.8,201.8 194.8,255.0 184.4,246.0 197.8,246.7 206.0,240.3 185.5,237.4 186.5,220.2 199.9,233.0 206.3,199.7 197.8,254.8 191.9,216.1 203.4,202.2 201.1,252.4 195.3,253.3 195.6,239.0 197.6,257.1 191.6,217.6 199.2,253.4 196.4,240.0 199.0,250.7 203.8,217.8 201.5,210.6 197.5,237.4 203.5,250.8 190.1,243.3 195.3,234.7 200.1,236.8 195.6,219.0 188.1,233.9 194.5,212.0 198.0,257.7 195.7,246.5 185.5,227.5 198.4,255.5 197.7,255.3 192.8,249.2 194.1,251.8 212.0,239.6 207.8,244.9 188.9,243.0 206.4,237.2 201.4,251.7 200.2,228.0 197.8,257.4 198.3,256.8 198.2,252.1 198.8,248.5 194.5,251.5 190.1,223.6 195.2,242.2 199.4,233.9 195.5,237.0 198.9,239.4 187.0,244.7 200.1,255.8 198.3,255.7 198.8,244.1 197.4,245.7 204.5,234.6 181.8,233.2 194.5,244.4 203.5,236.8 200.7,252.5 193.7,253.1 200.0,254.3 202.5,249.2 200.4,243.4 195.7,240.5 203.3,248.7 208.4,220.6 197.8,215.4 208.6,229.9 188.5,238.3 200.8,233.3 192.9,251.0 190.4,234.2 198.4,250.8 194.9,254.7 195.1,249.0 195.7,254.8 192.2,180.9 195.8,238.7 201.4,254.0 199.2,255.3 192.7,249.2 196.0,226.4 197.2,225.9 194.1,249.9 200.1,230.6 197.5,257.1 202.9,209.0 196.2,253.2 199.1,246.7 188.7,219.8 195.3,240.2 195.9,254.1 198.0,257.8 192.1,223.9 198.0,257.5 180.7,234.0 197.5,255.0 196.3,233.5 196.0,250.6 199.1,253.2 214.4,221.4 197.0,255.6 198.6,248.6 200.2,242.1 204.9,246.8 198.7,254.2 195.5,227.1 198.4,257.1 213.5,238.8 216.6,218.9 212.4,247.2 196.6,249.1 201.9,249.4 203.3,228.2 200.3,249.1 197.6,245.6 189.2,248.5 198.0,257.8 191.4,247.9 201.5,246.8 213.5,238.8 197.7,240.2 213.4,240.5 199.3,252.1 198.5,257.1 201.1,242.3 192.4,250.5 190.9,244.2 199.1,251.9 212.5,241.4 192.5,203.7 183.0,232.7 196.6,238.5 194.1,237.6 199.1,242.9 195.5,253.1 184.4,231.5 196.4,235.4 197.9,257.0 196.6,255.7 198.7,256.8 197.9,257.9 192.3,225.1 193.2,243.4 186.9,241.4 204.5,233.4 186.8,244.1 188.1,237.8 191.1,226.9 191.5,221.3 180.5,215.3 180.5,211.2 195.5,237.4 194.6,253.1 204.0,237.0 199.5,232.0 205.9,223.0 197.8,249.6 190.4,225.0 192.7,250.5 187.2,241.4 208.3,231.4 195.5,249.0 193.5,239.3 194.5,199.5 192.6,251.6 202.2,248.9 200.3,230.3 212.6,225.3 210.9,238.4 187.5,244.8 197.3,255.8 203.4,222.3 186.7,226.7 195.0,237.6 202.1,252.8 196.6,202.7 198.0,239.1 199.8,255.6 202.6,229.1 194.1,245.3 185.5,223.7 197.6,244.5 195.9,233.2 196.4,249.8 189.5,228.9 209.1,210.1 197.5,255.0 191.6,233.8 185.9,217.1 188.3,247.2 201.9,253.8 184.9,234.6 199.9,253.1 189.4,233.7 197.4,253.9 192.4,246.1 207.3,237.3 179.0,229.2 192.6,214.0 202.5,245.6 192.0,237.5 201.2,247.8 184.8,204.6 201.6,254.5 195.1,185.0 196.6,241.9 203.4,230.5 197.3,224.7 197.7,227.0 194.3,250.6 188.8,225.6 202.5,250.6 190.8,201.2 193.9,249.8 198.5,255.1 192.1,251.4 193.9,246.1 191.4,231.6 202.7,207.4 184.7,219.3 196.2,229.1 209.1,223.6 213.4,228.6 202.9,252.4 198.2,256.8 195.4,204.4 203.6,229.3 200.4,244.3 198.7,243.3 202.4,218.6 189.8,241.2 209.0,244.2 198.8,255.4 193.9,253.3 195.2,247.9 201.6,215.9 193.7,245.6 198.4,254.8 198.6,255.6 190.8,246.8 194.0,235.9 197.3,257.1 193.2,188.1 197.5,252.4 196.7,251.9 197.5,248.5 199.3,252.5 207.1,219.6 195.7,248.8 200.2,251.6 196.2,186.4 195.7,197.2 195.8,248.2 200.8,213.9 202.1,230.9 201.1,246.5 195.2,251.0 197.9,253.6 193.2,190.4 188.4,190.6 186.3,229.7 190.4,238.5 200.2,253.5 195.7,253.4 202.1,248.0 191.7,219.3 195.7,242.6 196.2,255.7 198.3,257.1 179.3,232.5 197.1,242.4 180.1,237.7 208.5,214.7 213.6,215.0 199.9,252.1 195.6,253.7 186.6,242.4 198.1,257.7 209.8,245.0 190.6,249.8 196.0,252.4 204.9,244.1 210.0,244.7 205.7,245.3 197.9,256.3 197.9,257.8 210.3,236.8 213.6,244.0 194.2,203.2 197.4,246.3 192.1,219.2 207.2,226.8 200.6,243.3 189.4,212.1 196.4,251.9 196.5,249.6 200.2,226.0 189.5,234.4 198.5,255.6 194.4,233.0 209.5,193.4 204.1,240.8 203.5,251.0 202.6,241.6 204.6,238.8 197.0,255.4 194.7,234.7 197.7,256.7 198.7,248.7 193.1,243.9 200.0,250.1 196.7,240.3 197.7,253.3 210.4,215.5 195.3,222.7 203.2,233.8 201.0,224.7 179.6,225.1 201.4,249.0 200.2,243.8 190.7,231.4 202.2,233.4 193.1,249.7 214.2,242.4 199.3,254.2 199.8,253.7 199.4,255.7 197.7,250.5 194.7,254.5 203.3,225.6 203.4,242.1 197.3,255.8 196.7,193.6 191.0,233.9 195.7,227.4 205.0,244.1 201.3,225.1 187.0,237.5 187.2,200.5 197.4,253.5 201.3,217.1 196.9,247.1 189.9,242.4 200.5,254.8 195.2,238.9 189.9,236.3 209.3,241.0 198.3,255.0 204.3,253.0 200.6,243.2 199.2,255.4 192.8,245.3 201.5,221.9 192.7,227.2 198.6,256.3 210.3,244.4 199.2,249.9 197.8,225.5 191.9,245.0 194.1,221.5 202.3,241.7 201.7,231.3 197.7,257.3 193.1,249.9 183.7,219.4 199.8,254.5 194.9,250.2 209.3,239.0 197.8,255.9 200.5,238.4 184.9,237.6 195.5,253.6 203.8,238.4 194.0,221.8 198.0,248.8 209.7,231.9 188.9,249.1 200.7,243.7 197.4,256.2 197.2,221.2 195.7,233.5 202.0,238.1 197.1,254.2 187.9,246.2 191.9,226.1 179.0,223.1 197.8,256.7 200.7,252.3 201.2,250.6 218.6,222.2 195.0,251.1 188.4,250.8 189.5,239.8 207.4,220.2 207.2,196.8 196.1,255.6 199.1,252.2 189.0,245.2 201.7,250.6 198.2,254.7 190.8,240.9 197.3,254.8 203.4,229.2 199.4,247.3 194.1,242.7 201.5,250.9 195.6,222.0 197.9,257.1 194.2,236.2 208.3,212.3 197.2,252.6 195.7,243.9 186.0,229.0 197.8,252.5 201.0,251.1 197.7,257.0 200.7,248.3 201.9,244.8 196.7,255.8 196.8,255.7 194.2,249.7 205.2,221.9 197.7,253.3 198.8,254.7 201.7,248.1 184.2,220.1 192.2,226.7 203.7,235.6 193.1,242.5 190.6,239.1 190.2,190.4 199.1,251.0 202.9,228.4 186.7,242.8 203.8,244.7 190.4,199.1 196.8,225.8 194.4,253.2 196.2,248.6 193.2,218.5 192.4,215.8 198.0,257.5 197.0,243.6 195.7,255.7 197.9,257.9 203.7,209.4 196.6,253.9 197.7,257.1 215.6,225.2 208.0,226.0 188.2,239.6 201.6,232.1 192.5,246.6 209.5,234.8 197.5,257.0 195.8,251.7 212.8,234.0 196.7,242.0 201.6,229.5 199.5,232.0 195.5,227.1 197.5,248.0 186.6,220.5 214.3,241.8 201.6,253.9 191.7,235.4 212.4,206.2 194.9,249.1 210.9,230.7 192.3,178.7 199.3,248.5 180.0,229.0 202.7,248.1 207.7,225.0 194.2,247.4 194.8,234.5 193.4,252.3 196.1,245.8 212.2,234.8 201.9,253.3 193.2,249.7 189.0,221.6 194.8,242.4 203.9,246.4 188.3,244.5 203.8,222.8 197.6,254.8 187.7,226.6 206.9,241.3 197.6,228.8 199.2,248.8 198.2,256.2 207.1,224.9 190.0,244.1 200.1,245.2 192.0,194.3 199.6,252.1 208.6,233.3 185.0,220.2 205.4,190.0 217.1,219.9 190.0,251.0 199.4,238.7 200.0,244.6 197.9,253.7 197.4,253.1 197.6,253.9 182.0,236.4 183.5,242.2 191.5,229.5 205.8,249.6 198.0,257.2 193.9,251.1 199.6,237.5 200.1,249.4 197.9,257.9 193.5,250.7 196.7,252.2 199.8,252.3 203.4,247.6 203.6,188.2 192.6,210.2 196.5,244.9 197.9,257.5 196.7,245.5 199.4,249.4 196.8,248.2 185.8,236.4 200.1,255.1 196.3,184.4 197.4,255.6 189.6,216.8 195.4,240.7 209.6,218.3 197.2,237.4 198.1,257.2 194.6,253.6 194.8,245.7 199.9,222.9 194.2,252.2 197.4,235.2 198.0,257.6 201.0,231.8 208.2,248.4 200.2,211.4 205.5,237.0 198.5,251.7 195.2,255.4 207.5,234.0 202.1,228.3 195.9,253.1 200.1,237.4 197.9,257.7 202.4,250.2 209.7,242.4 208.0,237.1 212.4,247.2 203.0,235.8 190.0,236.3 196.2,248.0 199.1,247.9 196.4,247.5 196.9,255.0 182.9,223.0 195.1,251.4 198.9,244.2 186.6,234.6 181.6,197.3 191.3,224.1 198.3,254.0 199.5,243.7 195.8,238.7 191.5,246.3 200.0,242.2 197.9,257.9 214.6,242.3 195.3,251.6 182.2,236.0 195.4,226.7 193.1,209.9 200.9,250.4 186.8,240.8 192.8,205.4 185.3,213.7 201.5,235.2 203.1,229.3 194.7,237.8 201.7,245.0 198.4,257.3 189.8,222.8 218.1,225.9 200.9,240.9 199.5,252.2 195.1,235.1 195.5,252.9 197.7,253.1 202.7,222.8 197.1,243.0 196.4,225.0 201.3,247.1 194.5,253.6 202.6,196.3 206.9,247.6 193.8,247.9 191.0,242.8 198.9,239.5 189.4,237.0 199.9,252.3 201.3,244.3 194.6,243.7 197.7,247.3 194.7,220.6 196.8,256.8 193.6,244.0 193.7,216.7 204.1,237.8 193.0,221.1 192.1,249.3 196.3,254.0 189.8,240.8 203.4,236.3 196.9,242.1 201.6,239.4 203.2,236.5 187.1,232.2 197.1,248.3 200.2,217.5 195.5,254.4 198.6,254.9 190.7,239.2 203.1,245.5 197.6,250.0 204.1,251.6 197.9,257.4 186.3,223.5 201.8,238.0 216.2,219.5 195.0,242.3 199.1,240.6 197.8,255.4 195.3,190.5 201.8,245.1 208.4,231.7 202.6,236.6 194.6,238.5 210.0,218.2 196.7,239.6 200.6,250.8 189.4,232.4 205.2,230.9 196.8,234.6 206.2,247.4 194.7,245.8 198.5,254.8 197.5,256.0 213.4,225.0 190.2,235.4 202.1,212.0 199.0,255.6 202.9,201.0 193.2,237.5 196.5,252.5 208.2,225.8 198.4,254.6 190.3,222.4 201.9,242.4 195.3,232.7 199.8,253.6 207.3,196.0 195.1,249.0 198.2,255.8 190.5,236.9 207.1,240.2 198.3,256.9 196.4,229.9 190.7,237.3 195.6,249.5 193.7,250.3 203.8,231.8 198.3,255.9 204.8,233.1 197.9,257.6 191.5,242.0 198.6,254.4 208.8,239.4 202.4,241.0 207.1,213.5 196.8,250.8 202.9,237.6 196.3,254.7 193.6,251.5 196.5,248.6 193.8,242.5 196.3,228.3 205.9,204.3 197.8,205.8 198.7,251.7 199.5,255.3 189.3,241.1 201.1,239.2 199.6,253.5 194.0,229.2 184.7,236.2 201.5,247.4 203.0,221.9 193.7,234.8 197.7,240.8 210.4,221.7 193.1,203.4 195.6,247.6 197.4,251.6 198.9,238.6 196.2,251.5 197.1,238.0 193.1,247.2 202.3,243.9 199.4,251.2 194.9,234.0 206.3,223.1 189.7,228.8 198.5,256.2 199.1,256.4 191.1,207.2 190.0,239.2 192.1,241.1 192.7,245.9 210.3,225.7 199.2,254.3 195.2,238.4 195.0,251.4 197.7,256.6 208.0,234.6 193.8,248.4 199.8,226.3 194.4,232.4 196.1,252.4 207.0,224.9 196.6,254.4 200.8,243.0 195.1,238.6 197.6,257.1 194.7,233.6 197.6,254.6 192.2,240.6 203.5,235.1 205.0,241.6 216.5,222.5 185.7,248.7 198.6,252.9 190.9,228.0 193.5,238.2 193.2,242.7 201.5,221.4 202.8,222.0 197.7,257.5 192.2,237.4 195.9,223.0 197.1,250.9 205.5,249.0 201.3,223.0 193.9,225.5 194.7,239.1 211.1,232.6 207.8,247.2 200.5,230.4 202.2,248.4 196.8,247.4 192.9,222.0 206.5,194.0 200.3,252.4 214.4,224.2 202.1,246.4 196.1,240.2 194.2,215.6 193.7,249.0 203.8,236.1 197.6,252.9 181.4,213.6 195.3,235.2 197.8,255.2 176.9,231.0 207.9,240.4 197.8,257.0 200.5,254.0 179.4,229.4 198.9,241.1 207.1,228.5 201.8,232.6 201.0,234.7 189.5,237.0 193.7,245.0 206.2,233.3 196.9,256.6 195.4,253.6 200.6,240.7 197.7,208.4 207.5,234.9 203.8,251.8 188.3,237.5 203.4,244.8 198.8,243.5 196.0,239.4 189.5,224.7 212.8,231.4 195.8,254.7 202.4,254.4 195.6,179.0 209.9,196.4 198.3,253.3 197.9,254.1 200.0,240.8 194.8,249.7 204.5,203.7 195.5,252.4 208.9,205.0 204.6,244.0 204.7,247.2 197.1,251.5 197.1,234.7 190.8,239.9 195.8,254.5 199.9,255.5 187.9,237.7 215.0,220.7 201.7,245.4 197.2,256.7 193.9,245.7 205.1,233.1 201.0,251.0 205.3,194.0 197.6,256.9 198.4,251.6 206.4,244.6 196.1,253.8 199.5,251.8 197.2,257.0 187.9,245.5 214.1,220.7 198.3,252.1 206.8,251.3 202.4,230.4 204.1,237.1 199.4,241.8 198.4,255.5 202.2,251.2 188.9,240.7 202.8,252.3 191.4,243.2 213.3,225.8 210.9,226.9 194.6,250.9 215.6,218.3 211.5,231.9 203.4,243.1 189.1,229.9 179.9,218.3 189.6,241.7 209.3,246.3 206.7,208.6 198.2,254.4 197.3,249.0 197.1,254.6 201.5,253.6 194.1,245.6 204.4,225.9 197.8,257.0 189.7,247.8 198.5,249.3 206.9,243.2 203.2,211.5 186.4,226.2 209.8,247.7 198.7,253.1 201.1,235.0 199.7,255.2 189.9,250.9 195.6,253.2 197.9,257.8 200.0,246.4 208.5,241.2 199.2,241.5 201.0,239.4 186.6,233.2 202.6,242.8 197.0,246.2 194.7,205.8 198.5,252.9 201.3,250.4 187.7,232.2 198.0,240.1 187.8,234.3 206.4,242.6 201.1,219.7 197.4,252.2 204.0,243.4 215.9,228.0 197.2,252.6 207.4,220.3 199.4,251.0 207.9,215.7 208.0,226.0 205.9,229.3 204.7,227.0 201.1,218.7 196.4,237.6 180.6,216.9 207.7,245.1 197.7,254.0 199.3,254.5 201.5,230.5 192.6,249.8 197.9,258.0 199.5,244.1 195.2,245.9 197.0,241.2 195.4,244.0 205.6,232.7 189.7,250.4 192.0,248.2 195.1,242.5 192.6,240.7 197.4,247.3 213.2,232.5 197.1,231.5 199.2,247.9 198.3,255.0 198.5,257.0 197.0,254.5 204.9,245.4 197.5,254.7 200.0,254.4 199.6,242.4 197.1,252.2 198.4,254.2 199.2,230.2 201.6,245.7 202.0,254.7 195.7,223.9 206.0,241.4 213.7,224.6 204.6,227.7 198.3,256.7 193.5,247.2 196.1,241.8 201.1,246.2 198.1,257.5 197.1,250.5 199.8,252.4 213.1,227.6 197.2,253.1 208.6,238.1 196.6,241.1 187.8,208.9 207.8,248.3 197.5,254.0 187.7,216.9 189.1,246.2 196.6,252.3 197.9,248.8 204.8,239.0 209.0,219.9 197.2,254.9 197.3,254.3 197.8,253.3 192.2,236.6 197.5,247.0 198.4,257.3 198.0,257.8 197.5,257.0 206.9,242.3 192.9,197.5 197.4,252.2 197.3,224.5 203.9,228.8 201.7,251.9 198.3,255.6 205.4,245.7 206.5,221.3 212.3,216.1 208.9,238.3 196.5,249.6 180.3,209.2 204.9,248.3 203.7,245.2 189.1,244.8 197.4,253.4 199.0,246.8 204.8,241.2 200.7,249.2 195.8,254.0 197.5,255.6 196.6,251.8 193.3,232.6 197.6,255.4 186.6,243.8 190.9,241.4 212.3,227.6 194.0,253.8 197.9,257.2 189.3,236.0 191.2,228.5 195.9,252.0 198.7,254.7 197.6,256.7 201.0,233.1 196.5,256.3 200.7,238.0 203.0,226.3 196.3,250.2 197.7,257.2 195.2,249.4 218.1,214.7 203.2,251.1 197.1,229.6 202.0,234.2 202.8,238.3 202.6,223.4 208.3,239.6 212.4,240.3 195.2,250.7 197.8,255.5 194.6,247.7 198.3,256.4 203.3,221.9 209.4,237.3 192.1,213.0 202.1,247.6 200.6,254.2 214.8,211.0 192.4,213.1 204.0,214.0 197.0,206.0 199.9,230.6 188.8,236.4 192.6,223.2 196.2,253.7 189.6,231.3 196.0,226.7 201.6,239.1 209.6,240.4 194.4,232.9 183.0,220.2 201.2,214.7 198.8,242.6 213.6,231.8 198.7,256.9 197.9,250.6 198.5,252.3 196.9,247.5 200.3,227.5 194.5,210.5 202.1,250.3 201.2,245.9 200.5,229.1 197.8,256.3 202.0,251.4 194.9,243.3 195.1,252.5 182.8,232.9 200.1,253.0 198.0,257.6 198.6,255.6 196.8,249.0 184.5,226.5 198.1,257.3 195.2,252.5 190.1,244.9 200.9,199.6 211.1,213.2 194.6,254.3 198.5,253.9 195.2,243.6 217.9,220.0 212.7,234.9 207.7,184.6 209.1,245.9 181.8,230.0 193.1,221.0 193.9,222.3 197.7,219.2 207.4,182.7 194.9,253.1 206.9,240.7 198.7,254.3 195.7,249.4 200.3,228.5 196.8,249.2 179.8,227.4 199.0,255.6 193.8,225.4 198.0,257.0 209.2,227.6 196.8,242.2 201.5,246.2 197.9,256.0 214.3,213.2 185.4,243.1 197.0,248.2 193.2,249.1 204.2,250.7 204.5,242.6 205.5,214.8 196.1,228.2 198.1,255.7 196.3,235.3 194.3,236.2 205.4,244.8 200.5,250.3 198.4,252.7 197.6,257.3 192.6,249.6 200.3,249.6 194.0,249.8 211.5,227.7 196.3,250.9 199.2,255.9 205.3,249.1 197.8,257.1 197.5,252.0 198.9,254.1 200.6,252.6 211.9,238.9 201.8,248.9 201.0,251.3 197.6,252.2 191.6,248.9 190.4,241.9 199.8,242.3 197.8,257.1 191.3,227.0 199.5,254.2 182.1,223.2 198.5,251.2 195.9,223.2 198.2,256.8 191.7,232.8 199.3,256.5 198.6,255.5 197.8,257.0 191.1,245.7 198.2,256.4 192.0,204.9 200.7,249.2 187.3,220.5 205.5,229.8 195.8,238.7 197.7,250.2 197.9,256.8 209.8,208.4 212.7,232.8 204.3,247.5 192.3,246.8 200.5,250.8 191.8,249.4 198.2,254.6 194.1,236.4 200.7,253.4 203.1,233.3 199.0,254.9 214.0,232.9 197.3,253.0 193.2,217.8 209.4,207.4 205.5,220.1 197.8,255.1 186.7,213.6 209.9,196.9 194.6,238.2 196.5,252.2 196.9,233.2 214.2,233.6 202.9,236.3 195.7,254.3 205.3,240.3 197.6,253.9 195.2,254.6 195.0,252.2 200.7,196.9 199.2,245.1 196.1,254.0 199.0,248.2 199.4,248.6 203.0,203.3 197.6,255.9 200.4,250.3 198.7,249.1 211.4,237.5 200.3,249.5 191.6,240.9 179.0,240.4 201.7,229.0 180.0,206.4 188.7,235.4 197.2,245.3 210.9,242.8 203.7,236.0 196.1,244.8 201.5,250.3 197.3,256.6 197.1,241.8 206.9,242.3 199.0,251.0 210.8,229.0 198.8,252.4 199.4,253.3 200.5,241.7 210.5,219.0 200.9,237.5 181.8,196.7 192.2,212.9 192.6,242.4 193.0,249.0 194.3,193.6 193.6,252.9 186.8,233.1 196.9,250.8 202.2,227.7 201.0,251.2 197.6,256.1 194.9,241.3 198.5,252.6 200.9,254.6 203.0,225.6 192.0,199.1 181.2,205.7 196.9,256.0 199.2,237.3 190.8,236.1 195.6,250.6 203.1,242.1 197.8,255.7 196.2,255.5 214.1,219.9 198.0,257.9 199.0,253.9 200.2,251.8 194.9,227.2 196.6,238.0 207.4,245.6 198.9,239.5 219.2,218.6 208.5,243.6 196.1,255.0 189.1,207.0 195.2,249.1 218.9,210.3 190.7,249.7 197.8,256.7 189.8,246.0 188.5,228.2 190.2,245.0 197.7,257.2 195.8,213.6 193.1,240.1 211.9,236.3 198.9,253.0 197.8,254.0 197.7,254.2 199.9,251.8 199.1,250.1 189.7,231.0 207.2,232.0 198.0,257.6 197.4,255.3 198.0,246.9 192.3,243.7 194.4,253.0 201.2,239.2 216.0,217.3 196.9,246.9 196.6,249.0 191.2,250.4 209.3,231.1 194.7,252.7 190.6,249.6 189.9,248.5 189.6,234.8 202.8,234.7 197.1,251.6 196.0,253.5 208.7,240.2 194.8,253.9 189.0,224.4 193.7,222.3 190.3,245.7 192.4,231.5 196.9,251.1 195.8,240.9 200.5,233.2 199.2,253.0 200.9,254.4 197.7,256.8 200.9,229.5 187.3,239.1 192.1,239.9 206.9,215.4 196.9,243.4 190.0,234.1 198.0,257.4 197.2,240.8 198.4,255.5 198.7,255.7 209.7,215.2 199.4,244.4 202.7,211.5 200.6,251.5 187.8,236.3 198.5,249.6 207.2,237.7 178.7,229.5 211.7,236.6 200.1,254.9 203.0,237.8 199.4,244.9 197.1,246.8 206.1,229.7 197.1,238.0 188.1,233.3 209.0,196.7 193.6,254.0 196.4,252.5 205.7,227.6 198.4,256.3 198.2,257.5 192.5,224.1 189.0,246.8 194.8,178.8 200.6,228.1 187.5,221.3 196.2,242.0 197.0,247.5 192.5,244.9 197.8,235.0 196.4,251.2 202.3,248.6 192.0,246.8 198.0,257.5 194.4,189.2 197.3,188.1 186.8,243.7 201.0,239.6 206.8,230.1 193.5,240.0 208.9,232.5 196.0,233.4 192.6,250.0 201.4,242.4 205.5,239.2 197.5,191.6 195.2,253.8 202.6,246.0 197.1,256.6 200.6,253.8 197.0,253.9 198.5,254.1 196.6,251.1 199.7,256.1 197.9,256.2 198.8,238.3 185.5,247.7 193.4,224.1 197.8,257.0 204.8,228.5 194.7,249.3 199.4,253.0 196.7,250.1 197.7,255.1 197.5,255.8 197.7,255.2 204.0,241.6 191.2,245.8 197.8,255.7 199.2,250.8 197.3,233.2 197.1,256.5 201.1,231.1 186.8,242.4 205.5,202.4 194.8,252.2 202.0,246.7 187.5,241.6 204.7,237.2 189.4,233.2 193.9,246.7 209.9,227.4 202.2,224.7 201.6,216.5 202.4,234.6 197.8,254.2 199.5,249.7 199.2,250.9 202.1,247.3 197.6,240.6 191.5,203.1 203.8,252.4 201.6,224.9 208.2,237.1 196.7,254.3 200.2,251.1 206.6,235.7 204.9,244.0 208.9,224.6 190.3,206.5 195.0,249.8 202.8,247.8 197.1,233.6 197.1,251.8 196.7,253.2 212.5,202.0 192.0,246.0 194.3,251.5 216.1,206.6 195.4,247.8 200.0,250.3 192.5,233.6 200.2,254.4 180.6,239.5 209.5,222.1 194.7,251.4 198.8,253.3 207.4,243.6 204.1,250.9 193.8,227.6 197.9,257.7 190.5,217.5 197.9,257.9 199.1,253.7 189.6,240.0 194.0,242.8 197.9,257.9 198.8,255.5 196.6,239.4 192.1,247.3 197.9,254.4 192.4,234.4 199.1,256.2 202.8,205.0 194.2,240.8 203.5,247.7 198.7,246.1 209.2,241.5 195.5,246.8 188.2,234.2 190.7,226.4 204.1,247.1 192.3,188.9 203.3,249.1 196.2,253.9 199.2,250.0 187.2,246.6 197.3,247.2 193.8,222.6 198.0,257.7 200.5,252.8 196.0,253.0 194.5,237.0 198.1,257.6 203.7,250.8 192.6,192.7 195.0,246.0 207.7,243.5 197.3,253.0 190.6,219.9 208.1,245.1 192.6,221.0 202.7,244.9 208.4,246.6 215.1,222.2 185.7,222.7 202.3,243.1 200.9,250.3 191.4,231.0 190.8,239.3 204.7,243.0 210.6,208.1 196.5,249.3 201.7,242.0 189.0,238.0 196.2,252.7 198.0,257.7 199.8,236.9 199.9,253.0 207.2,220.3 198.7,251.1 195.9,254.5 195.9,237.8 207.9,246.2 203.2,204.5 181.7,227.4 198.3,256.7 207.3,231.9 198.2,257.5 180.8,215.0 193.9,237.5 207.9,235.7 204.5,232.0 209.4,243.2 194.0,225.7 188.0,233.7 198.6,254.6 207.1,201.4 197.6,228.2 198.6,255.7 201.9,235.3 206.8,231.1 192.8,241.7 200.3,251.9 211.9,242.6 205.6,226.8 198.0,257.3 198.2,256.7 198.0,257.8 196.9,227.9 196.0,242.5 216.9,227.1 201.4,250.8 175.9,235.3 199.1,240.7 192.3,238.3 196.5,175.5 198.4,254.5 198.6,252.9 200.7,250.2 202.6,241.0 189.4,212.5 193.6,244.1 201.7,248.3 200.6,220.5 191.4,232.2 200.1,254.9 197.4,254.2 198.7,254.9 196.3,223.9 196.3,210.8 207.8,244.6 200.5,219.8 211.6,235.1 198.8,251.6 195.7,252.9 199.7,252.0 198.8,245.8 186.9,205.0 197.8,257.2 190.6,240.2 196.0,228.5 199.6,252.7 196.4,236.2 192.9,225.2 207.1,194.5 207.3,233.0 201.4,247.6 199.5,254.0 187.7,246.9 198.4,257.5 198.7,255.7 195.6,215.3 196.2,250.6 183.1,202.3 211.0,235.4 195.1,240.2 196.5,246.2 218.1,240.1 179.1,234.7 212.8,220.6 192.9,240.1 198.7,255.8 195.2,245.1 202.1,245.7 193.9,216.5 197.9,257.7 188.9,240.8 201.2,240.4 203.7,215.4 202.5,251.8 196.2,215.5 194.7,247.1 180.2,237.0 195.3,255.6 191.8,225.2 196.3,250.8 185.0,223.3 210.0,236.4 196.6,248.8 200.8,241.0 196.2,240.3 198.0,257.9 182.7,222.6 191.2,240.7 195.1,180.5 193.0,236.4 198.0,257.6 210.1,236.4 207.1,223.7 199.1,252.1 187.8,242.8 201.2,243.3 196.5,253.4 198.2,257.2 193.8,248.9 201.4,242.5 186.3,236.8 191.4,243.2 201.1,233.7 198.3,257.1 195.7,253.0 197.2,243.2 206.7,246.5 187.3,246.6 188.0,235.0 198.1,257.2 188.4,242.3 195.4,246.2 196.8,250.4 188.9,235.3 205.5,247.2 195.7,216.3 216.9,243.2 184.6,241.3 195.6,252.3 185.0,223.3 195.6,224.7 195.0,201.5 195.8,220.9 199.9,252.5 197.2,247.7 207.2,245.6 195.2,249.4 193.9,249.3 194.7,250.1 201.6,252.4 199.5,247.2 185.9,231.0 187.6,235.5 193.1,211.7 191.5,236.1 194.0,244.0 199.2,255.2 200.4,239.5 200.4,221.9 215.2,224.3 198.4,255.2 212.5,213.1 193.1,252.6 197.7,256.9 190.8,242.2 204.8,229.3 203.5,189.1 199.1,254.1 197.8,250.9 207.5,236.5 203.1,243.4 197.2,255.5 193.1,242.1 195.7,242.9 197.7,255.0 204.1,250.8 205.8,191.1 201.3,254.0 199.3,241.9 200.7,240.0 198.2,256.7 207.0,199.0 212.3,241.3 197.1,234.5 201.7,245.0 192.2,205.0 210.7,245.4 198.2,256.1 203.8,242.8 197.2,247.8 199.3,251.5 197.4,250.8 201.7,215.3 195.0,250.0 195.2,237.0 189.9,219.7 205.8,242.7 199.8,252.6 197.5,256.7 189.4,244.5 198.6,247.3 199.5,247.0 187.9,234.9 196.3,255.8 198.0,257.7 202.9,242.7 193.6,249.5 197.7,257.3 197.5,257.3 193.9,251.5 199.9,246.4 199.7,253.7 191.0,229.1 199.1,254.5 197.8,257.4 199.2,253.9 192.7,241.0 214.2,205.3 206.4,230.8 200.2,252.9 193.3,236.3 198.2,257.1 192.3,239.8 188.9,246.5 196.4,248.3 207.1,242.7 181.1,196.1 199.5,254.0 199.6,253.4 194.5,247.0 199.4,228.8 196.5,252.5 197.3,249.4 193.0,251.3 200.0,243.8 202.7,248.1 205.9,231.9 199.8,254.0 212.0,230.1 217.7,214.3 198.0,257.4 201.9,225.5 197.9,255.8 195.3,253.4 197.6,256.9 201.5,236.5 194.2,240.9 205.5,240.4 198.9,256.1 198.2,253.8 200.1,254.2 212.0,208.9 192.6,235.8 188.9,201.9 199.7,225.6 196.6,235.3 196.4,251.9 200.0,254.6 202.5,236.3 219.5,223.3 200.8,249.6 186.0,237.8 202.1,246.4 194.0,231.9 202.8,245.4 197.9,257.8 198.8,256.2 196.8,253.5 197.8,256.9 206.7,220.7 197.8,236.9 199.7,254.4 198.4,256.1 210.0,243.8 195.9,254.9 197.8,250.2 212.1,232.0 203.6,227.1 203.1,249.9 197.9,257.3 199.0,256.6 189.2,231.8 190.3,245.5 199.6,246.4 193.7,217.2 200.1,251.9 196.2,254.8 200.6,252.2 201.1,250.2 186.0,218.9 188.7,246.2 195.0,211.6 195.8,251.1 190.3,243.7 198.2,256.8 190.8,199.9 190.9,238.2 201.0,227.1 201.8,242.3 194.1,233.6 198.9,256.5 201.7,195.1 189.1,239.5 196.4,255.0 209.0,204.1 197.6,256.2 197.3,244.9 196.8,250.1 205.5,233.7 197.6,254.7 200.1,254.7 198.0,257.4 197.7,254.2 195.5,243.3 197.7,246.0 199.5,237.1 190.3,239.5 187.6,221.6 212.0,240.3 204.7,224.9 198.0,257.9 192.2,240.2 187.3,216.2 194.9,252.7 208.7,241.6 198.2,256.7 215.9,235.7 196.0,246.8 198.2,252.7 195.3,247.5 188.8,245.2 182.4,234.2 198.5,245.5 219.1,237.2 203.1,243.1 198.0,257.3 191.8,244.2 180.7,230.1 197.5,256.0 184.6,238.6 206.7,204.9 198.9,248.6 201.4,250.4 197.6,257.1 197.9,255.5 196.3,239.9 199.7,252.6 189.1,246.4 184.9,194.6 199.8,227.5 199.1,252.2 208.8,187.4 197.4,253.1 189.5,245.7 210.6,228.6 192.5,232.6 207.4,213.6 190.5,248.0 209.1,215.9 197.8,256.9 196.8,241.5 198.1,255.9 195.5,238.0 198.4,256.8 214.3,204.1 192.9,198.0 183.9,205.4 197.7,256.3 197.7,240.3 196.2,250.1 202.2,245.0 197.9,257.4 200.5,252.3 199.9,254.3 198.1,257.7 189.3,220.6 202.7,247.6 201.6,242.7 193.5,215.7 199.5,236.0 204.8,225.1 207.6,235.7 195.7,248.9 198.0,257.5 199.1,253.6 216.7,223.7 198.3,256.8 205.5,212.1 176.5,233.3 179.2,223.2 186.8,246.2 194.0,249.0 212.6,198.8 193.9,237.2 191.3,218.0 198.5,255.9 198.2,252.6 197.4,230.3 179.9,227.2 213.6,233.3 201.4,250.4 193.4,231.5 204.6,242.2 184.1,224.2 207.3,240.2 210.6,207.1 201.5,249.2 202.8,236.2 214.6,233.9 202.0,212.7 196.2,236.5 209.1,236.1 202.0,249.3 198.0,257.4 199.7,243.0 196.8,200.2 195.8,251.0 203.5,227.7 198.3,255.2 181.6,228.7 209.7,236.4 201.4,221.4 203.5,243.8 196.0,254.4 214.2,225.7 202.6,234.8 215.4,232.7 195.3,231.6 200.9,245.7 211.3,206.2 199.9,220.6 195.7,254.6 203.9,251.6 190.2,216.3 204.9,210.2 197.3,252.5 204.4,241.2 207.0,218.8 194.8,247.3 194.1,242.1 178.1,219.7 195.7,247.5 216.8,216.0 189.2,225.3 189.7,247.5 193.3,238.1 203.2,246.5 207.3,246.6 201.0,250.4 198.5,256.5 198.2,257.3 197.6,255.8 198.2,256.2 189.5,205.6 199.4,255.2 197.0,253.6 182.8,237.8 188.9,223.7 201.1,223.8 202.5,242.5 201.6,252.3 196.8,220.1 191.6,247.9 209.0,210.9 195.2,243.7 202.0,235.5 193.9,246.9 201.7,248.7 206.5,230.8 201.6,253.2 197.9,257.4 191.8,230.2 198.1,256.9 205.2,237.1 188.8,226.0 201.7,217.5 209.3,204.4 196.3,253.0 193.1,195.7 212.5,215.3 203.4,233.6 201.7,218.2 193.7,245.8 196.9,254.2 197.2,254.4 197.7,245.1 189.4,244.8 197.7,252.9 197.5,253.8 200.0,242.6 197.7,257.5 189.5,245.7 200.4,250.4 206.8,214.4 199.8,242.8 190.7,241.2 201.2,250.0 196.9,253.9 211.7,226.8 202.9,246.4 196.0,251.6 198.0,257.5 205.7,200.1 199.4,250.2 203.2,236.7 199.8,242.5 201.5,239.0 194.0,235.1 194.8,241.0 211.6,225.8 200.9,253.5 199.3,248.5 194.0,220.4 204.4,242.0 214.3,241.4 199.3,252.9 196.9,239.4 196.7,247.0 201.5,232.8 198.9,254.5 216.6,231.8 194.3,186.5 200.0,242.6 201.0,191.1 196.6,254.2 214.8,208.9 197.5,240.7 193.9,246.3 197.1,256.1 197.9,257.6 197.5,247.7 193.6,220.3 197.9,257.6 188.4,245.7 190.0,250.9 197.4,245.1 194.9,244.2 189.3,242.4 197.9,257.9 207.3,248.0 201.5,250.5 203.3,232.0 193.9,239.3 196.7,249.9 197.5,254.7 195.6,252.0 197.7,227.0 187.5,226.8 202.2,247.0 208.0,218.4 203.2,244.2 200.3,244.7 197.9,257.8 197.4,256.6 194.4,225.5 199.0,256.3 188.8,231.4 189.6,202.0 194.6,252.5 208.5,242.6 197.7,255.9 194.6,250.5 177.2,235.2 197.5,257.0 191.2,244.3 201.6,252.0 198.2,256.1 194.8,243.6 201.1,194.4 195.6,233.4 200.6,251.1 204.8,242.3 192.7,231.2 199.4,255.2 196.4,236.0 203.5,248.2 195.9,217.1 204.8,228.9 188.9,247.1 198.1,257.4 198.5,256.5 202.5,250.5 200.9,251.4 192.1,190.5 198.6,255.3 212.8,223.8 196.8,209.5 202.5,250.0 201.9,247.5 193.9,246.9 203.2,250.1 196.2,254.0 194.4,253.0 188.7,215.1 187.5,244.9 214.6,229.2 199.1,255.5 197.4,253.7 200.3,254.2 198.1,256.1 197.8,256.0 197.3,255.5 190.1,216.5 197.9,252.3 197.9,257.8 201.8,236.3 193.2,239.8 197.6,225.4 193.1,248.8 204.7,237.6 198.7,256.8 206.0,243.3 212.3,197.0 198.3,253.4 205.8,249.1 198.0,256.9 203.2,234.3 199.1,255.0 198.6,255.1 198.6,255.8 200.3,232.9 200.6,248.5 196.0,253.1 189.2,245.0 203.1,251.4 203.3,248.6 203.5,249.1 197.8,256.8 191.3,244.2 208.2,198.8 201.6,245.9 190.4,243.8 198.1,257.3 197.5,254.4 193.7,245.7 208.3,223.7 186.6,226.5 204.0,215.7 201.8,202.2 195.1,249.5 194.3,224.8 202.7,239.6 212.4,227.8 199.5,245.6 194.3,192.5 197.6,257.0 193.2,233.1 216.3,231.0 198.4,255.8 196.1,248.5 194.5,225.1 184.7,231.9 194.2,216.9 194.1,252.8 196.2,235.6 192.5,248.2 199.9,244.0 194.6,227.5 197.8,240.7 198.1,257.4 199.6,233.0 189.0,225.0 188.2,246.5 196.9,254.9 199.2,230.7 195.9,247.2 195.8,250.6 197.4,247.1 204.8,231.1 189.8,210.9 200.9,227.2 203.6,248.9 213.9,241.8 197.2,253.2 196.8,235.9 197.0,252.9 200.7,227.8 197.9,248.8 207.2,241.4 211.2,236.5 206.5,245.8 206.9,245.8 188.3,237.9 194.8,215.8 195.6,246.7 212.6,234.2 193.7,249.6 182.1,211.3 198.2,255.1 198.6,248.5 198.2,255.3 215.7,214.2 199.5,252.6 195.3,254.4 197.7,251.0 196.9,254.5 188.7,213.6 197.9,258.0 207.4,228.7 194.3,252.9 195.2,249.8 202.9,226.2 195.0,207.6 202.9,236.9 198.1,257.4 200.3,246.9 188.1,206.3 191.0,251.1 198.1,257.1 198.8,252.8 195.9,245.9 195.4,255.7 202.5,203.9 182.5,198.6 197.6,253.4 188.8,244.4 198.4,255.0 203.6,228.8 197.8,253.6 203.4,247.4 203.9,230.5 198.1,257.4 200.9,243.3 197.4,247.3 197.0,255.3 199.0,249.0 185.9,242.4 211.2,240.9 184.9,211.7 195.3,239.7 187.0,236.1 213.7,238.0 185.4,203.8 204.7,216.6 183.7,245.0 205.9,233.2 198.8,255.1 200.8,241.8 210.6,229.9 181.0,224.2 197.9,257.6 201.1,253.4 210.3,194.1 197.7,255.7 190.9,248.1 211.1,227.3 200.7,224.3 212.3,239.8 197.9,257.6 205.3,243.6 206.2,240.8 190.5,202.2 211.1,241.0 195.8,178.4 181.0,219.8 190.2,224.0 197.4,251.6 204.0,251.5 198.6,254.8 195.7,238.0 188.8,247.2 204.2,224.3 190.0,238.6 208.1,246.1 198.0,257.9 194.8,203.8 206.8,245.1 205.0,251.8 197.4,254.7 190.9,245.5 203.2,244.9 200.6,228.8 192.5,236.3 197.1,253.8 191.5,245.3 197.3,254.1 194.6,247.8 200.3,251.3 206.2,205.3 191.9,214.0 198.0,257.8 195.8,253.5 199.0,243.5 201.9,248.1 198.3,256.3 195.4,253.5 195.1,251.0 197.2,255.3 193.6,239.9 198.4,253.3 198.7,252.2 202.1,251.9 199.5,223.8 197.0,252.0 190.2,214.8 205.0,219.0 196.7,247.3 205.1,239.7 184.0,239.4 198.7,251.6 210.4,237.9 198.0,257.8 193.4,251.0 200.1,231.1 194.4,252.0 184.5,201.2 191.4,238.2 198.0,256.8 204.0,238.4 203.3,231.8 191.7,248.7 197.8,257.2 199.0,255.5 217.7,221.2 198.2,253.0 198.2,254.0 191.7,232.8 193.7,226.5 192.7,248.6 191.7,212.5 206.3,245.1 183.3,224.7 201.2,252.7 197.4,256.1 202.0,246.9 207.9,236.4 196.8,236.4 197.7,257.3 199.1,255.9 200.4,249.1 196.8,234.6 195.8,237.1 197.0,253.6 182.3,207.7 207.9,202.4 195.6,246.7 205.8,249.6 202.8,233.9 198.1,257.4 197.6,250.7 200.3,239.9 199.4,246.5 203.3,248.0 193.9,245.1 195.9,247.0 204.3,207.2 197.8,250.4 199.9,248.0 197.7,254.2 200.7,250.9 191.6,197.5 197.1,238.4 197.6,256.8 214.8,241.6 202.0,230.6 197.5,256.3 200.6,246.8 183.6,239.0 191.7,250.8 194.2,237.1 203.1,234.8 203.6,229.7 200.7,249.8 203.5,202.3 199.5,226.0 195.3,252.2 215.4,217.3 189.9,247.5 191.7,216.9 194.1,245.2 190.4,248.1 203.5,239.6 193.3,244.9 206.2,215.8 209.8,242.3 198.3,254.4 207.8,241.6 205.2,229.9 211.7,216.3 197.9,257.7 199.2,252.8 212.2,241.1 196.6,255.7 201.9,245.9 197.5,257.1 195.3,240.6 197.2,255.3 188.9,241.1 206.8,237.0 216.5,216.4 200.0,239.7 209.2,232.8 196.3,254.5 196.1,189.4 192.0,242.5 198.5,256.0 201.2,217.8 196.8,239.1 206.0,235.3 204.1,242.9 197.8,246.4 197.1,256.6 197.7,256.3 203.1,245.2 207.4,247.0 210.7,206.1 198.0,257.7 199.1,246.0 195.9,255.0 189.9,201.2 204.2,225.4 189.3,246.5 197.4,241.3 197.4,256.4 197.6,254.0 192.2,242.1 202.1,245.8 211.0,220.2 197.8,250.1 204.3,207.8 197.1,256.5 198.2,255.2 193.1,238.3 197.6,254.3 201.9,250.9 201.2,241.3 193.8,206.0 202.1,210.0 189.9,248.4 193.0,237.5 208.3,245.6 208.5,228.5 197.4,256.6 203.7,241.7 203.6,241.4 197.5,253.2 188.8,244.2 196.1,231.5 202.7,219.8 205.5,226.7 215.5,214.2 194.8,244.3 196.2,254.0 208.8,243.9 194.2,246.5 199.1,255.4 199.7,249.9 193.5,232.4 202.8,199.5 189.2,204.0 201.6,249.6 194.4,240.1 197.5,250.5 206.0,229.1 198.8,253.5 200.9,239.6 198.7,252.2 200.3,255.1 205.3,232.1 199.3,253.4 207.6,238.4 203.0,249.5 197.9,258.0 193.5,226.1 211.7,199.9 205.6,246.5 193.5,239.2 188.5,231.3 187.2,211.2 197.2,253.5 213.5,218.0 204.4,217.8 197.4,251.7 206.6,247.0 197.9,257.8 193.1,251.7 196.4,249.7 183.8,211.8 203.1,222.3 197.5,252.9 200.6,244.9 209.5,244.0 202.6,233.0 206.5,229.5 201.4,252.2 198.1,257.0 212.4,213.7 194.3,251.7 198.0,257.1 186.0,205.5 197.4,256.6 197.9,257.7 201.8,247.7 217.4,218.0 198.8,239.0 190.4,235.0 199.1,255.8 192.8,238.6 206.6,246.3 205.5,249.8 205.8,246.3 196.8,249.4 196.2,255.1 203.9,246.3 199.0,244.3 191.5,237.3 187.8,234.0 208.7,223.1 202.0,242.8 191.7,237.6 202.6,248.0 208.2,242.0 197.9,249.3 196.8,240.7 195.9,232.4 201.1,248.0 188.3,228.6 189.1,245.4 198.5,256.9 195.1,252.2 186.6,208.8 202.3,197.7 197.3,254.1 197.0,255.5 198.7,254.4 200.0,230.9 201.4,254.1 197.8,255.7 197.1,254.9 198.7,254.7 181.5,242.0 203.3,239.4 192.3,248.0 199.6,250.3 201.5,250.8 209.5,241.7 188.8,223.4 199.7,247.4 197.4,255.1 207.7,243.8 198.1,257.5 200.6,202.2 192.4,237.9 195.3,239.2 196.3,196.0 197.9,255.7 195.3,246.3 198.1,256.6 197.7,255.4 184.3,223.5 208.4,207.6 197.1,225.7 194.8,252.6 212.8,224.4 205.7,198.5 195.4,241.7 201.8,252.0 200.6,245.9 200.2,230.3 201.2,248.5 197.3,248.3 197.9,257.2 194.1,246.1 195.9,252.8 198.3,254.7 200.2,242.5 203.3,252.4 208.8,221.3 199.1,253.4 207.9,244.5 197.1,255.4 202.9,241.3 198.0,257.6 190.7,223.2 200.9,247.5 199.0,252.5 179.7,211.2 197.9,257.6 190.7,248.5 197.2,253.2 197.2,254.4 194.2,233.8 197.0,236.8 191.3,234.8 190.2,235.2 198.0,257.7 202.9,240.1 194.3,249.3 200.6,230.7 192.4,240.4 200.8,212.4 203.4,243.3 198.0,257.9 184.9,223.4 202.4,235.9 179.8,238.7 192.5,243.3 193.6,227.7 187.6,248.5 198.9,253.4 197.0,255.4 185.8,227.4 197.8,256.1 200.6,250.0 189.9,236.9 197.3,254.1 197.9,257.8 194.3,239.8 192.9,233.8 203.9,230.5 194.7,243.2 182.5,231.0 195.8,242.2 197.3,253.2 198.2,252.5 184.3,209.9 197.4,250.6 207.9,235.0 193.3,250.5 203.4,215.2 200.0,244.0 201.3,208.3 203.5,230.5 198.2,254.1 198.3,256.3 205.5,240.3 199.8,251.5 195.7,250.8 197.9,258.0 206.6,237.1 199.1,245.0 184.6,227.5 210.0,226.8 195.8,233.5 187.0,233.1 194.1,228.1 197.8,236.8 189.8,240.6 199.7,252.3 198.9,252.1 197.2,251.1 206.4,212.8 196.3,214.4 204.3,244.8 188.6,204.8 196.3,248.0 197.0,252.6 196.9,250.7 196.3,246.1 204.0,240.9 205.3,241.7 197.5,256.4 205.6,222.0 197.7,255.3 204.6,248.1 196.0,221.1 197.0,256.8 192.9,249.5 190.5,239.2 192.9,248.5 192.6,228.3 197.8,252.9 202.8,217.0 207.3,212.1 203.5,248.0 193.0,245.1 198.3,256.5 194.5,253.1 209.7,230.9 204.5,227.8 198.0,257.8 194.7,237.3 198.3,256.9 197.3,254.2 195.7,250.4 195.0,252.5 201.7,193.2 195.7,249.9 201.4,236.5 209.5,230.9 192.9,242.2 199.9,255.5 183.1,214.2 197.4,255.8 206.4,234.3 187.8,223.9 197.8,257.7 206.2,215.8 197.8,256.2 197.0,245.2 212.5,238.3 196.2,237.9 195.3,249.2 193.3,220.2 196.7,250.5 199.9,251.0 193.6,243.7 203.1,227.0 207.4,208.2 199.9,228.7 207.3,225.5 203.1,246.4 205.1,229.3 194.5,247.1 193.9,179.3 199.7,252.8 196.4,245.3 201.7,232.8 200.8,248.0 190.1,218.1 197.0,256.6 200.7,252.6 198.0,257.3 198.4,251.8 199.4,248.3 186.9,212.0 195.6,253.6 186.6,236.1 196.4,232.0 193.6,210.2 197.3,218.2 186.7,225.5 202.1,235.0 208.7,242.8 208.5,201.4 196.8,255.6 189.2,235.6 200.5,251.6 195.7,254.1 201.2,210.0 197.7,254.3 207.5,244.9 193.5,252.9 204.8,243.3 205.4,232.7 204.8,248.8 207.8,184.1 212.6,237.3 214.6,214.4 197.7,239.1 197.8,257.0 205.5,234.3 182.0,196.5 194.0,205.4 200.7,252.4 192.6,235.8 197.8,247.8 195.4,214.8 192.0,240.6"/>
<polyline fill="none" stroke="none" marker-start="url(#ps)" marker-mid="url(#ps)" marker-end="url(#ps)" points="194.1,196.6 190.6,234.5 196.2,220.8 207.7,209.2 196.5,194.9 194.2,196.5 204.6,195.5 204.2,201.7 196.6,204.8 216.5,206.5 206.0,184.3 200.1,220.2 194.2,195.3 181.5,205.3 209.3,210.0 191.2,215.5 181.8,204.5 205.9,177.6 189.0,207.1 194.3,191.3 207.2,216.6 196.9,248.0 209.6,196.8 204.0,191.3 199.0,251.6 206.7,204.3 212.0,203.1 203.9,213.6 204.0,202.9 191.2,188.7 195.3,199.6 189.3,204.6 209.0,190.2 212.0,207.1 191.6,208.1 204.5,220.9 202.9,184.4 193.9,239.3 203.5,188.8 185.2,204.3 194.2,181.8 192.8,185.0 184.4,195.3 210.5,236.4 202.5,201.1 199.8,252.8 183.3,210.6 190.7,201.9 197.1,196.8 196.9,256.0 205.0,203.5 193.1,185.5 195.8,198.2 186.7,237.8 202.8,210.8 186.7,202.5 195.2,179.0 192.4,204.4 197.4,255.2 203.1,212.4 189.6,212.0 201.2,213.8 190.5,205.4 205.4,192.9 178.7,212.4 195.9,254.3 202.3,252.3 193.1,196.9 206.4,209.1 200.8,217.0 207.3,196.5 192.2,209.1 192.0,187.7 215.5,221.1 204.0,210.7 193.6,245.7 199.2,256.2 207.4,204.7 214.1,212.7 186.2,243.1 207.8,201.3 205.4,182.5 203.1,239.5 199.9,238.9 195.9,204.8 205.6,212.1 207.8,189.2 193.0,237.4 204.8,205.6 207.4,181.5 206.5,239.2 198.0,257.3 185.0,205.2 201.2,199.8 183.1,202.1 202.5,214.5 179.3,211.9 198.3,257.2 208.0,219.3 196.6,187.6 213.9,205.1 193.0,217.5 197.1,183.0 204.3,187.5 194.5,186.2 201.9,201.5 195.8,208.8 203.3,189.6 206.0,188.5 195.2,209.2 192.9,239.0 214.2,210.5 198.7,253.8 205.5,216.5 196.4,193.6 190.1,189.5 184.2,220.9 201.1,197.3 203.4,218.0 189.9,205.9 201.6,195.5 210.8,201.8 191.7,200.5 190.9,194.1 204.3,191.3 204.5,181.2 203.2,217.2 208.0,199.7 194.2,178.0 194.7,208.0 189.4,194.4 203.3,223.0 195.7,216.5 179.2,220.4 197.8,255.9 195.0,191.1 194.3,224.4 217.2,204.8 218.1,208.0 204.9,213.1 194.2,204.7 211.0,201.3 203.1,189.7 189.7,205.7 202.2,201.9 191.4,248.6 196.4,238.4 204.8,246.8 196.6,197.4 198.1,257.0 197.8,255.6 204.8,195.1 208.7,206.1 206.6,212.0 215.8,228.2 195.0,201.8 204.6,244.0 197.7,238.1 188.8,209.9 186.9,217.3 203.1,197.2 204.4,211.8 202.2,197.7 202.0,249.9 210.8,212.9 191.7,192.1 209.0,197.0 193.6,243.9 201.4,194.5 186.7,202.3 188.2,211.8 213.2,205.3 191.9,211.4 195.5,192.1 208.8,203.3 203.1,246.6 187.1,205.2 197.0,206.5 193.8,201.7 207.4,226.8 201.2,199.5 206.9,179.7 205.3,200.5 194.3,222.3 214.4,202.8 192.2,193.8 208.3,210.2 208.8,182.4 202.1,194.6 201.6,205.8 203.2,199.1 197.4,216.9 202.4,241.2 193.4,189.0 218.5,208.6 190.9,212.8 192.5,189.1 210.2,195.1 195.1,178.4 190.0,233.5 197.8,219.8 210.6,215.1 220.3,209.9 190.7,219.4 207.8,213.0 191.4,222.7 195.6,252.0 186.0,198.0 183.9,229.3 203.9,218.6 210.2,220.3 194.3,213.3 196.3,198.5 193.6,228.6 204.0,181.8 194.8,212.4 188.4,205.8 196.1,234.2 186.2,213.6 195.0,243.0 209.0,227.3 195.4,247.2 205.3,204.2 194.9,244.7 188.7,212.5 198.3,257.0 200.3,251.4 195.3,246.5 198.0,240.9 196.4,198.8 202.7,244.7 202.9,187.9 216.8,215.4 192.8,217.3 195.9,186.2 197.0,250.0 194.7,201.0 189.4,202.4 187.9,205.6 211.3,210.7 191.9,194.5 197.8,210.7 212.5,209.1 200.6,220.6 189.1,211.3 192.8,188.8 205.8,199.4 202.5,192.6 198.3,256.8 201.2,218.8 197.8,257.4 201.8,247.2 188.5,200.3 195.4,210.8 196.9,197.5 196.3,208.5 202.9,199.3 195.0,205.3 194.4,175.4 194.1,181.8 186.0,217.8 203.6,195.2 209.2,190.0 198.5,254.1 197.5,222.2 209.5,213.9 209.4,216.2 204.4,216.2 190.5,219.4 204.8,218.9"/>
<polyline fill="none" stroke="none" marker-start="url(#pn)" marker-mid="url(#pn)" marker-end="url(#pn)" points="190.6,184.0 183.9,190.8 222.8,219.8 220.8,231.3 220.9,229.4 219.3,198.1 220.8,231.8 219.5,239.6 222.1,227.7 171.8,228.8 221.7,237.8 202.9,175.8 222.4,217.1 183.3,192.4 173.5,226.7 213.8,197.7 198.0,189.7 198.0,185.6 221.6,235.3 171.0,226.0 217.8,186.5 224.6,194.5 185.4,193.4 218.2,200.0 219.7,213.1 221.1,210.2 211.3,181.8 211.7,171.8 187.9,189.2 219.2,170.8 226.2,206.2 214.0,187.4 217.2,194.5 185.8,188.6 210.6,183.8 180.7,192.6 218.5,201.9 184.8,185.8 210.7,185.7 205.6,176.1 214.4,162.8 210.6,162.0 184.7,193.7 204.6,175.6 186.9,176.5 216.5,201.1 187.1,193.1 220.5,197.9 210.9,189.6 224.0,222.8 222.5,227.4 177.5,207.8 190.9,178.6 196.0,169.9 205.2,168.5 213.3,186.9 213.9,163.3 212.7,171.9 221.3,212.9 209.5,177.3 173.1,218.6 219.4,173.2 210.3,177.0 217.4,170.0 221.1,174.7 190.5,181.1 219.2,203.9 223.8,214.8 184.8,172.9 172.1,208.2 187.7,197.5 204.1,175.5 208.8,177.8 201.6,185.2 202.9,168.4 225.9,223.5 181.9,187.3 220.0,233.6 209.9,181.5 216.8,183.2 174.1,213.2 201.6,179.7 191.0,171.9 201.8,179.7 220.9,212.6 186.2,198.6 220.0,217.0 188.5,193.5 217.0,197.2 203.1,163.7 194.8,174.6 184.6,189.4 189.4,185.1 183.6,184.7 187.0,166.6 176.1,194.3 202.3,183.3 184.3,186.3 175.5,181.7 205.0,174.1 202.8,173.4 222.3,191.0 174.8,231.5 190.2,161.6 214.6,177.4 174.2,214.8 173.5,233.4 220.1,237.0 209.2,166.4 175.4,210.2 184.9,180.3 173.5,228.6 222.6,208.9 177.9,213.5 204.8,160.1 204.1,167.5 174.2,213.4 187.1,192.7 196.5,174.5 208.9,176.0 222.1,201.6 212.3,192.4 216.0,187.6 224.8,231.1 192.8,171.2 210.6,188.5 218.7,197.4 220.5,233.0 188.3,193.8 181.1,244.6 222.5,231.4 180.7,244.1 203.8,177.5 170.5,213.0 187.5,188.9 221.2,231.9 212.8,190.9 195.3,174.2 218.4,203.7 179.9,197.8 170.6,225.6 180.9,198.2 201.4,182.0 224.7,186.8 223.0,225.2 190.3,176.5 205.5,174.0 223.4,209.5 173.3,232.7 225.1,223.6 219.0,202.6 181.0,243.6 189.8,181.3 222.2,233.1 189.4,174.2 196.4,171.1 195.1,162.1 177.5,213.6 222.1,198.3 217.5,200.7 207.6,175.8 183.4,189.9 222.3,226.3 179.8,198.1 175.3,192.9 215.0,190.3 219.7,214.1 181.2,190.8 223.4,224.0 203.3,168.8 178.8,199.5 187.2,176.9 223.8,201.0 188.0,162.4 222.4,188.0 180.8,199.2 176.1,205.6 175.8,216.9 171.3,215.3 220.5,227.8 214.8,174.3 214.8,183.0 202.2,182.9 187.8,175.0 195.7,172.9 204.6,178.8 215.4,190.4 185.5,189.2 187.0,186.7 174.9,229.6 171.7,222.5 196.6,173.9 175.3,190.5 216.6,180.2 197.1,165.1 187.2,183.5 226.3,221.1 175.2,205.3 192.0,160.4 175.8,193.3 211.8,183.4 220.4,232.4 213.8,184.2 213.7,179.5 214.5,165.6 221.8,228.2 172.4,229.8 196.8,173.7 226.0,218.9 217.5,182.0 177.0,212.5 185.2,174.2 202.8,163.1 215.2,182.9 189.8,182.5 213.5,195.1 185.9,189.6 201.9,183.7 194.6,173.7 215.2,193.2 203.3,175.0 222.1,217.0 212.0,183.3 207.6,180.0 185.7,185.4 176.5,239.2 214.6,180.4 181.7,196.9 175.9,228.1 217.5,186.2 195.8,174.0 220.2,212.9 214.2,189.6 206.6,170.4 176.2,206.4 171.4,226.3 174.5,228.3 215.8,199.6 201.6,168.5 185.4,182.9 193.8,165.8 185.6,198.8 189.1,48.6 206.4,55.6 188.5,61.4 208.2,89.1 211.9,88.0 214.6,96.1 203.1,102.6 207.6,106.1 205.1,109.0 185.2,119.3 191.6,117.9 203.1,116.0 204.9,117.9 206.8,120.4 201.9,121.2 200.4,124.3 211.3,124.3 211.3,127.1 209.3,127.0 194.8,127.8 203.1,128.6 204.9,131.5 193.6,132.1 184.4,136.4 204.5,135.0 210.1,136.0 208.8,140.3 211.3,141.8 214.6,142.2 203.9,142.2 206.8,143.2 180.2,144.2 188.3,143.8 166.6,146.5 192.2,146.7 200.6,146.1 206.8,147.0 203.3,149.0 191.6,150.0 214.0,151.0 195.5,152.5 207.8,153.5 229.2,153.5 192.2,154.5 203.3,153.9 183.9,155.8 213.0,155.8 214.6,157.8 173.2,160.3 167.9,175.3 174.3,177.8 248.7,197.1 263.4,202.7 247.9,210.2 249.6,211.9 255.7,216.7 259.9,218.9 263.4,222.3 261.0,223.3 256.9,225.2 259.0,226.1 261.5,227.0 249.4,223.0 250.5,225.6 250.8,227.7 247.9,224.7 255.7,232.6 270.4,232.6 285.8,212.8 287.0,215.6 286.3,224.4 246.5,242.0 316.8,227.0 306.8,227.6 303.3,229.5 300.8,228.7 335.8,230.6 343.4,229.0 339.0,236.5 227.8,188.0 228.6,194.0 224.6,198.3 227.2,206.7 229.0,207.6 232.5,208.8 234.2,211.2 243.0,213.0 236.8,216.3 242.4,220.7 229.0,217.2 230.7,218.9 232.5,221.6 235.6,221.9 228.1,225.6 231.6,227.7 234.2,229.4 236.0,231.5 239.5,231.2 243.0,232.0 241.2,225.9 243.8,225.6 240.3,227.7 236.8,240.3 227.8,251.3 223.4,243.4 225.5,236.4 222.9,222.4 223.7,212.0 221.1,206.7 215.9,187.5 159.5,134.9 159.7,160.7 155.4,164.0 154.8,175.1 164.3,180.2 158.4,187.8 168.4,198.7 173.3,197.3 134.0,210.9 150.0,211.7 166.2,215.8 170.6,219.0 134.5,228.5 160.3,231.5 167.9,229.9 168.4,235.3 140.7,240.5 157.6,246.7 167.6,242.1 172.5,252.9 173.8,236.7 171.1,209.5 175.2,204.1"/>
<g stroke="#727272" stroke-width="1" fill="none">
<line x1="35" x2="358" y1="174.1" y2="174.1"/><line x1="148.4" x2="148.4" y1="39.7" y2="266.6"/><line x1="246.6" x2="246.6" y1="39.7" y2="266.6"/>
</g>
<g class="gb">
<line x1="61" y1="108.9" x2="63.5" y2="114"/>
<rect x="41.5" y="100.4" width="19.7" height="8.5"/>
<text class="g" text-anchor="middle" x="51.4" y="107.0">ESR1</text>
<line x1="49.6" y1="155.8" x2="47.8" y2="161.2"/>
<rect x="49.2" y="147.7" width="17.7" height="8.1"/>
<text class="g" text-anchor="middle" x="58.1" y="154.1">PGR</text>
<line x1="142.8" y1="139.2" x2="138.6" y2="145"/>
<rect x="115.4" y="131.1" width="27.7" height="8.1"/>
<text class="g" text-anchor="middle" x="129.2" y="137.4">TTC39C</text>
<line x1="125.8" y1="153" x2="132" y2="149.2"/>
<rect x="107.8" y="150.5" width="18.0" height="8.0"/>
<text class="g" text-anchor="middle" x="116.8" y="156.8">MYC</text>
</g>
<g class="r">
<circle cx="63.9" cy="116.1" r="2.3"/>
<circle cx="47.3" cy="163.5" r="2.3"/>
<circle cx="137.8" cy="147.1" r="2.3"/>
<circle cx="133.9" cy="148.5" r="2.3"/>
</g>
<text class="b" x="373.6" y="54.9">B</text>
<text class="t" text-anchor="middle" x="456" y="69.2">MCF7</text>
<text class="t" text-anchor="middle" x="455.5" y="80">24-hour treatment</text>
<rect x="424" y="107.7" width="9.8" height="100" fill="url(#bl)"/>
<rect x="463" y="107.7" width="9.8" height="100" fill="url(#bl)"/>
<rect x="438.5" y="197" width="10" height="10.7" fill="#ff8000"/>
<rect x="477.5" y="205.8" width="10" height="1.9" fill="#ff8000"/>
<g stroke="#111" stroke-width="1.1" fill="none">
<line x1="418.5" x2="418.5" y1="87.2" y2="208.2"/><line x1="418" x2="493" y1="207.7" y2="207.7"/><line x1="436.1" x2="436.1" y1="207.7" y2="211"/><line x1="474.8" x2="474.8" y1="207.7" y2="211"/>
<line x1="415.2" x2="418.5" y1="207.7" y2="207.7"/>
<line x1="416.5" x2="418.5" y1="197.7" y2="197.7"/>
<line x1="415.2" x2="418.5" y1="187.7" y2="187.7"/>
<line x1="416.5" x2="418.5" y1="177.7" y2="177.7"/>
<line x1="415.2" x2="418.5" y1="167.7" y2="167.7"/>
<line x1="416.5" x2="418.5" y1="157.7" y2="157.7"/>
<line x1="415.2" x2="418.5" y1="147.7" y2="147.7"/>
<line x1="416.5" x2="418.5" y1="137.7" y2="137.7"/>
<line x1="415.2" x2="418.5" y1="127.7" y2="127.7"/>
<line x1="416.5" x2="418.5" y1="117.7" y2="117.7"/>
<line x1="415.2" x2="418.5" y1="107.7" y2="107.7"/>
<line x1="416.5" x2="418.5" y1="97.7" y2="97.7"/>
<line x1="415.2" x2="418.5" y1="87.7" y2="87.7"/>
</g>
<text class="t" text-anchor="end" x="413.5" y="211.0">0.0</text>
<text class="t" text-anchor="end" x="413.5" y="191.0">0.2</text>
<text class="t" text-anchor="end" x="413.5" y="171.0">0.4</text>
<text class="t" text-anchor="end" x="413.5" y="151.0">0.6</text>
<text class="t" text-anchor="end" x="413.5" y="131.0">0.8</text>
<text class="t" text-anchor="end" x="413.5" y="111.0">1.0</text>
<text class="t" text-anchor="end" x="413.5" y="91.0">1.2</text>
<text class="t" text-anchor="middle" x="436" y="221.8">PGR</text>
<text class="t" text-anchor="middle" x="474.5" y="221.8">GREB1</text>
<text class="t" text-anchor="middle" transform="translate(380.9,148) rotate(-90)">Relative RNA transcriptlevels</text>
<text class="t" text-anchor="middle" transform="translate(391.3,148) rotate(-90)">(normalized to HPRT1)</text>
<rect x="383" y="240.3" width="13" height="7.3" fill="url(#bl)"/>
<rect x="383" y="256.6" width="13" height="7" fill="#ff8000"/>
<text class="t" x="399.7" y="247.3">DMSO</text>
<text class="t" x="399.7" y="263.4">100 nmol/L Vepdegestrant</text>
<text class="b" x="0.3" y="311.4">C</text>
<text class="t" text-anchor="middle" x="99.5" y="328">Ramos</text>
<text class="t" text-anchor="middle" x="99.3" y="353.2">Vepdegestrant</text>
<text class="t" text-anchor="middle" x="99.3" y="364.7">nmol/L</text>
<line x1="74.3" x2="123.9" y1="370.6" y2="370.6" stroke="#111" stroke-width="1.2"/>
<text class="t" style="font-size:9.2px" transform="translate(20.3,396.3) rotate(-90)">CC-885 100 nmol/L</text>
<text class="t" style="font-size:9.2px" transform="translate(41.3,396.3) rotate(-90)">Lena  10 µmol/L</text>
<text class="t" style="font-size:9.2px" transform="translate(62.3,396.3) rotate(-90)">DMSO</text>
<text class="t" style="font-size:9.2px" transform="translate(83.3,396.3) rotate(-90)">1,000</text>
<text class="t" style="font-size:9.2px" transform="translate(104.5,396.3) rotate(-90)">333</text>
<text class="t" style="font-size:9.2px" transform="translate(124.8,396.3) rotate(-90)">111</text>
<text class="t" style="font-size:9.2px" transform="translate(148.3,396.3) rotate(-90)">CC-885 100 nmol/L</text>
<text class="t" style="font-size:9.2px" transform="translate(169.0,396.3) rotate(-90)">Lena  10 µmol/L</text>
<rect x="6" y="400.1" width="172.3" height="21.2" fill="#f7f7f7" stroke="#8c8c8c" stroke-width="0.9"/>
<rect x="6" y="424.8" width="172.3" height="19.8" fill="#f7f7f7" stroke="#8c8c8c" stroke-width="0.9"/>
<rect x="6" y="447.7" width="172.3" height="20.3" fill="#f6f6f6" stroke="#8c8c8c" stroke-width="0.9"/>
<rect x="6" y="471.2" width="172.3" height="15.8" fill="#efefef" stroke="#8c8c8c" stroke-width="0.9"/>
<rect x="6" y="490" width="172.3" height="23.9" fill="#f7f7f7" stroke="#8c8c8c" stroke-width="0.9"/>
<rect x="29.8" y="409.8" width="16.5" height="4.2" rx="1" fill="#000" fill-opacity="0.97" filter="url(#b1)"/>
<rect x="50.8" y="409.8" width="16.5" height="4.2" rx="1" fill="#000" fill-opacity="0.97" filter="url(#b1)"/>
<rect x="71.8" y="409.8" width="16.5" height="4.2" rx="1" fill="#000" fill-opacity="0.92" filter="url(#b1)"/>
<rect x="92.5" y="409.8" width="16.5" height="4.2" rx="1" fill="#000" fill-opacity="0.94" filter="url(#b1)"/>
<rect x="112.8" y="409.8" width="16.5" height="4.2" rx="1" fill="#000" fill-opacity="0.96" filter="url(#b1)"/>
<rect x="157.4" y="409.8" width="16.5" height="4.2" rx="1" fill="#000" fill-opacity="0.98" filter="url(#b1)"/>
<rect x="29.8" y="432.9" width="16.5" height="2.9" rx="1" fill="#000" fill-opacity="0.35" filter="url(#b1)"/>
<rect x="50.8" y="432.9" width="16.5" height="2.9" rx="1" fill="#000" fill-opacity="0.97" filter="url(#b1)"/>
<rect x="71.8" y="432.9" width="16.5" height="2.9" rx="1" fill="#000" fill-opacity="0.88" filter="url(#b1)"/>
<rect x="92.5" y="432.9" width="16.5" height="2.9" rx="1" fill="#000" fill-opacity="0.88" filter="url(#b1)"/>
<rect x="112.8" y="432.9" width="16.5" height="2.9" rx="1" fill="#000" fill-opacity="0.88" filter="url(#b1)"/>
<rect x="157.4" y="432.9" width="16.5" height="2.9" rx="1" fill="#000" fill-opacity="0.30" filter="url(#b1)"/>
<rect x="29.8" y="456.3" width="16.5" height="3" rx="1" fill="#000" fill-opacity="0.10" filter="url(#b1)"/>
<rect x="29.8" y="460.5" width="16.5" height="3" rx="1" fill="#000" fill-opacity="0.11" filter="url(#b1)"/>
<rect x="50.8" y="456.3" width="16.5" height="3" rx="1" fill="#000" fill-opacity="0.60" filter="url(#b1)"/>
<rect x="50.8" y="460.5" width="16.5" height="3" rx="1" fill="#000" fill-opacity="0.65" filter="url(#b1)"/>
<rect x="71.8" y="456.3" width="16.5" height="3" rx="1" fill="#000" fill-opacity="0.50" filter="url(#b1)"/>
<rect x="71.8" y="460.5" width="16.5" height="3" rx="1" fill="#000" fill-opacity="0.54" filter="url(#b1)"/>
<rect x="92.5" y="456.3" width="16.5" height="3" rx="1" fill="#000" fill-opacity="0.55" filter="url(#b1)"/>
<rect x="92.5" y="460.5" width="16.5" height="3" rx="1" fill="#000" fill-opacity="0.59" filter="url(#b1)"/>
<rect x="112.8" y="456.3" width="16.5" height="3" rx="1" fill="#000" fill-opacity="0.55" filter="url(#b1)"/>
<rect x="112.8" y="460.5" width="16.5" height="3" rx="1" fill="#000" fill-opacity="0.59" filter="url(#b1)"/>
<rect x="157.4" y="456.3" width="16.5" height="3" rx="1" fill="#000" fill-opacity="0.07" filter="url(#b1)"/>
<rect x="157.4" y="460.5" width="16.5" height="3" rx="1" fill="#000" fill-opacity="0.08" filter="url(#b1)"/>
<rect x="8.8" y="476.9" width="16.5" height="2.9" rx="1" fill="#000" fill-opacity="0.15" filter="url(#b1)"/>
<rect x="29.8" y="476.9" width="16.5" height="2.9" rx="1" fill="#000" fill-opacity="0.50" filter="url(#b1)"/>
<rect x="50.8" y="476.9" width="16.5" height="2.9" rx="1" fill="#000" fill-opacity="0.98" filter="url(#b1)"/>
<rect x="71.8" y="476.9" width="16.5" height="2.9" rx="1" fill="#000" fill-opacity="0.75" filter="url(#b1)"/>
<rect x="92.5" y="476.9" width="16.5" height="2.9" rx="1" fill="#000" fill-opacity="0.80" filter="url(#b1)"/>
<rect x="112.8" y="476.9" width="16.5" height="2.9" rx="1" fill="#000" fill-opacity="0.85" filter="url(#b1)"/>
<rect x="134.8" y="476.9" width="16.5" height="2.9" rx="1" fill="#000" fill-opacity="0.20" filter="url(#b1)"/>
<rect x="157.4" y="476.9" width="16.5" height="2.9" rx="1" fill="#000" fill-opacity="0.40" filter="url(#b1)"/>
<rect x="7.8" y="499.4" width="18.5" height="3.1" rx="1" fill="#000" fill-opacity="1.00" filter="url(#b1)"/>
<rect x="28.8" y="499.4" width="18.5" height="3.1" rx="1" fill="#000" fill-opacity="0.95" filter="url(#b1)"/>
<rect x="49.8" y="499.4" width="18.5" height="3.1" rx="1" fill="#000" fill-opacity="0.95" filter="url(#b1)"/>
<rect x="70.8" y="499.4" width="18.5" height="3.1" rx="1" fill="#000" fill-opacity="0.90" filter="url(#b1)"/>
<rect x="91.5" y="499.4" width="18.5" height="3.1" rx="1" fill="#000" fill-opacity="0.95" filter="url(#b1)"/>
<rect x="111.8" y="499.4" width="18.5" height="3.1" rx="1" fill="#000" fill-opacity="0.95" filter="url(#b1)"/>
<rect x="133.8" y="499.4" width="18.5" height="3.1" rx="1" fill="#000" fill-opacity="1.00" filter="url(#b1)"/>
<rect x="156.4" y="499.4" width="18.5" height="3.1" rx="1" fill="#000" fill-opacity="0.97" filter="url(#b1)"/>
<text class="t" style="font-size:9.3px" x="183" y="415.7">GSPT1</text>
<text class="t" style="font-size:9.3px" x="183" y="438.9">IKZF3</text>
<text class="t" style="font-size:9.3px" x="183" y="462.4">IKZF1</text>
<text class="t" style="font-size:9.3px" x="183" y="483.3">CK1α</text>
<text class="t" style="font-size:9.3px" x="183" y="505.3">Mito.c</text>
<text class="b" x="246.5" y="370.6">D</text>
<text class="t" text-anchor="middle" x="365" y="383">SK-N-DZ</text>
<text class="t" text-anchor="middle" x="303" y="405.5">Vepdegestrant</text>
<text class="t" text-anchor="middle" x="303" y="416.5">nmol/L</text>
<text class="t" text-anchor="middle" x="411.6" y="405.2">Lenalidomide</text>
<text class="t" text-anchor="middle" x="411.6" y="416.4">µmol/L</text>
<line x1="270" x2="335.6" y1="421.1" y2="421.1" stroke="#111" stroke-width="1.3"/>
<line x1="378.7" x2="444" y1="421.1" y2="421.1" stroke="#111" stroke-width="1.3"/>
<text class="t" transform="translate(259.8,451.5) rotate(-90)">DMSO</text>
<text class="t" transform="translate(278.7,451.5) rotate(-90)">1,000</text>
<text class="t" transform="translate(296.8,451.5) rotate(-90)">300</text>
<text class="t" transform="translate(314.8,451.5) rotate(-90)">100</text>
<text class="t" transform="translate(333.7,451.5) rotate(-90)">30</text>
<text class="t" transform="translate(350.6,451.5) rotate(-90)">DMSO</text>
<text class="t" transform="translate(368.7,451.5) rotate(-90)">DMSO</text>
<text class="t" transform="translate(388.0,451.5) rotate(-90)">20</text>
<text class="t" transform="translate(405.7,451.5) rotate(-90)">10</text>
<text class="t" transform="translate(423.3,451.5) rotate(-90)">3</text>
<text class="t" transform="translate(440.8,451.5) rotate(-90)">1</text>
<text class="t" transform="translate(458.4,451.5) rotate(-90)">DMSO</text>
<text class="t" transform="translate(476.5,451.5) rotate(-90)">DMSO</text>
<rect x="246" y="455.5" width="237.8" height="25.3" fill="#ececec" stroke="#2a2a2a" stroke-width="1.2"/>
<rect x="246" y="484.6" width="237.8" height="29.1" fill="#f1f1f1" stroke="#2a2a2a" stroke-width="1.2"/>
<rect x="248.2" y="460.3" width="15.5" height="3.4" rx="1" fill="#000" fill-opacity="1.00" filter="url(#b1)"/>
<rect x="248.5" y="467.9" width="15" height="3.2" rx="1" fill="#000" fill-opacity="0.04" filter="url(#b2)"/>
<rect x="266.4" y="461.9" width="15.5" height="2.6" rx="1" fill="#000" fill-opacity="0.30" filter="url(#b1)"/>
<rect x="266.6" y="469.1" width="15" height="3.2" rx="1" fill="#000" fill-opacity="0.02" filter="url(#b2)"/>
<rect x="284.4" y="462.4" width="15.5" height="2.6" rx="1" fill="#000" fill-opacity="0.45" filter="url(#b1)"/>
<rect x="284.7" y="469.6" width="15" height="3.2" rx="1" fill="#000" fill-opacity="0.03" filter="url(#b2)"/>
<rect x="302.6" y="462.7" width="15.5" height="2.6" rx="1" fill="#000" fill-opacity="0.55" filter="url(#b1)"/>
<rect x="302.8" y="469.9" width="15" height="3.2" rx="1" fill="#000" fill-opacity="0.03" filter="url(#b2)"/>
<rect x="320.6" y="463.1" width="15.5" height="2.8" rx="1" fill="#000" fill-opacity="0.88" filter="url(#b1)"/>
<rect x="320.9" y="470.4" width="15" height="3.2" rx="1" fill="#000" fill-opacity="0.08" filter="url(#b2)"/>
<rect x="338.8" y="463.1" width="15.5" height="3.8" rx="1" fill="#000" fill-opacity="1.00" filter="url(#b1)"/>
<rect x="339.0" y="470.9" width="15" height="3.2" rx="1" fill="#000" fill-opacity="0.26" filter="url(#b2)"/>
<rect x="356.9" y="464.1" width="15.5" height="2.8" rx="1" fill="#000" fill-opacity="0.90" filter="url(#b1)"/>
<rect x="357.1" y="471.4" width="15" height="3.2" rx="1" fill="#000" fill-opacity="0.10" filter="url(#b2)"/>
<rect x="375.0" y="464.7" width="15.5" height="2.6" rx="1" fill="#000" fill-opacity="0.03" filter="url(#b1)"/>
<rect x="393.1" y="465.0" width="15.5" height="2.6" rx="1" fill="#000" fill-opacity="0.03" filter="url(#b1)"/>
<rect x="411.1" y="465.3" width="15.5" height="2.6" rx="1" fill="#000" fill-opacity="0.05" filter="url(#b1)"/>
<rect x="429.2" y="465.7" width="15.5" height="2.6" rx="1" fill="#000" fill-opacity="0.05" filter="url(#b1)"/>
<rect x="447.4" y="466.3" width="15.5" height="2.8" rx="1" fill="#000" fill-opacity="0.80" filter="url(#b1)"/>
<rect x="447.6" y="473.6" width="15" height="3.2" rx="1" fill="#000" fill-opacity="0.20" filter="url(#b2)"/>
<rect x="465.5" y="467.4" width="15.5" height="2.6" rx="1" fill="#000" fill-opacity="0.55" filter="url(#b1)"/>
<rect x="465.7" y="474.6" width="15" height="3.2" rx="1" fill="#000" fill-opacity="0.16" filter="url(#b2)"/>
<rect x="248.2" y="491.8" width="15.5" height="2.7" rx="1" fill="#000" fill-opacity="1.00" filter="url(#b1)" transform="rotate(4 256.0 493.2)"/>
<rect x="266.4" y="494.1" width="15.5" height="2.7" rx="1" fill="#000" fill-opacity="1.00" filter="url(#b1)" transform="rotate(4 274.1 495.5)"/>
<rect x="284.4" y="495.6" width="15.5" height="2.7" rx="1" fill="#000" fill-opacity="1.00" filter="url(#b1)" transform="rotate(4 292.2 497.0)"/>
<rect x="302.6" y="496.6" width="15.5" height="2.7" rx="1" fill="#000" fill-opacity="1.00" filter="url(#b1)" transform="rotate(2.5 310.3 498.0)"/>
<rect x="320.6" y="497.3" width="15.5" height="2.7" rx="1" fill="#000" fill-opacity="1.00" filter="url(#b1)" transform="rotate(2.5 328.4 498.7)"/>
<rect x="338.8" y="498.1" width="15.5" height="2.7" rx="1" fill="#000" fill-opacity="1.00" filter="url(#b1)" transform="rotate(2.5 346.5 499.5)"/>
<rect x="356.9" y="498.8" width="15.5" height="2.7" rx="1" fill="#000" fill-opacity="1.00" filter="url(#b1)" transform="rotate(2.5 364.6 500.2)"/>
<rect x="375.0" y="499.6" width="15.5" height="2.7" rx="1" fill="#000" fill-opacity="1.00" filter="url(#b1)" transform="rotate(1.5 382.7 501.0)"/>
<rect x="393.1" y="500.1" width="15.5" height="2.7" rx="1" fill="#000" fill-opacity="1.00" filter="url(#b1)" transform="rotate(1.5 400.8 501.5)"/>
<rect x="411.1" y="500.3" width="15.5" height="2.7" rx="1" fill="#000" fill-opacity="1.00" filter="url(#b1)" transform="rotate(1.5 418.9 501.7)"/>
<rect x="429.2" y="500.6" width="15.5" height="2.7" rx="1" fill="#000" fill-opacity="1.00" filter="url(#b1)" transform="rotate(1.5 437.0 502.0)"/>
<rect x="447.4" y="501.3" width="15.5" height="2.7" rx="1" fill="#000" fill-opacity="1.00" filter="url(#b1)" transform="rotate(1.5 455.1 502.7)"/>
<rect x="465.5" y="501.8" width="15.5" height="2.7" rx="1" fill="#000" fill-opacity="1.00" filter="url(#b1)" transform="rotate(1.5 473.2 503.2)"/>
<text class="t" style="font-size:9.3px" x="487.8" y="472.6">SALL4</text>
<text class="t" style="font-size:9.3px" x="487.8" y="507.5">GAPDH</text>
</svg></body></html>
